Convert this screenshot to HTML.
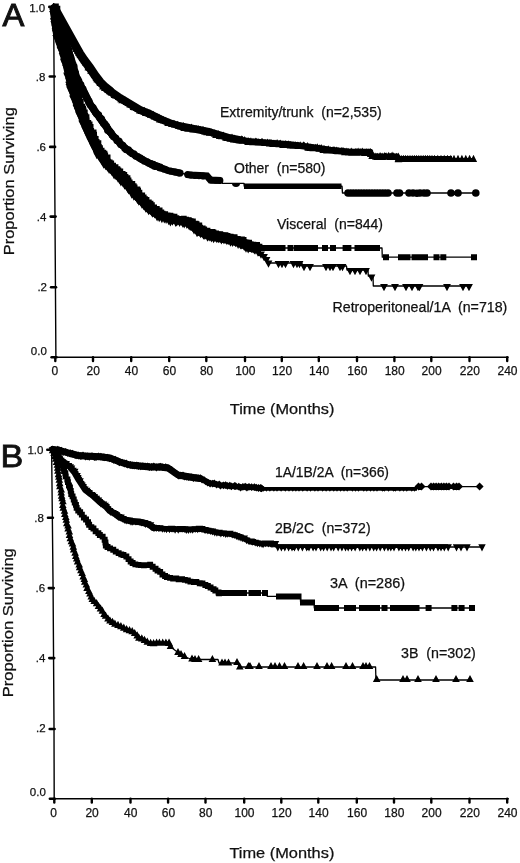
<!DOCTYPE html>
<html lang="en"><head><meta charset="utf-8"><title>Survival curves</title>
<style>
html,body{margin:0;padding:0;background:#fff}
svg{display:block}
text{font-family:"Liberation Sans",Arial,Helvetica,sans-serif;fill:#111;stroke:#111;stroke-width:0.25px}
</style></head><body>
<svg width="520" height="863" viewBox="0 0 520 863">
<rect width="520" height="863" fill="#fff"/>
<path d="M53.6 3L55.9 357.2H508.6" fill="none" stroke="#000" stroke-width="1.4"/>
<path d="M49.3 6.9H54.2" stroke="#000" stroke-width="2.6" stroke-linecap="round"/>
<path d="M49.8 76.5H54.7" stroke="#000" stroke-width="2.6" stroke-linecap="round"/>
<path d="M50.2 146.9H55.1" stroke="#000" stroke-width="2.6" stroke-linecap="round"/>
<path d="M50.7 216.6H55.6" stroke="#000" stroke-width="2.6" stroke-linecap="round"/>
<path d="M51.1 287.2H56" stroke="#000" stroke-width="2.6" stroke-linecap="round"/>
<path d="M51.6 357.2H56.5" stroke="#000" stroke-width="2.6" stroke-linecap="round"/>
<path d="M55.3 357.2V361" stroke="#000" stroke-width="2.4" stroke-linecap="round"/>
<path d="M93 357.2V361" stroke="#000" stroke-width="2.4" stroke-linecap="round"/>
<path d="M131.2 357.2V361" stroke="#000" stroke-width="2.4" stroke-linecap="round"/>
<path d="M169.2 357.2V361" stroke="#000" stroke-width="2.4" stroke-linecap="round"/>
<path d="M206.3 357.2V361" stroke="#000" stroke-width="2.4" stroke-linecap="round"/>
<path d="M245 357.2V361" stroke="#000" stroke-width="2.4" stroke-linecap="round"/>
<path d="M281.8 357.2V361" stroke="#000" stroke-width="2.4" stroke-linecap="round"/>
<path d="M318.8 357.2V361" stroke="#000" stroke-width="2.4" stroke-linecap="round"/>
<path d="M357 357.2V361" stroke="#000" stroke-width="2.4" stroke-linecap="round"/>
<path d="M394.4 357.2V361" stroke="#000" stroke-width="2.4" stroke-linecap="round"/>
<path d="M431.3 357.2V361" stroke="#000" stroke-width="2.4" stroke-linecap="round"/>
<path d="M469.5 357.2V361" stroke="#000" stroke-width="2.4" stroke-linecap="round"/>
<path d="M507.2 357.2V361" stroke="#000" stroke-width="2.4" stroke-linecap="round"/>
<path d="M54.5 8.2L58 14.5L62 21.7L67 30.7L72 39.7L77 48.7L80 54L84 60L90 68L95 75.5L100 82L105 87L110 91" fill="none" stroke="#000" stroke-width="8.8" stroke-linejoin="round" stroke-linecap="round"/>
<path d="M110 91L120 98L130 104L140 110L150 114L160 119" fill="none" stroke="#000" stroke-width="8" stroke-linejoin="round" stroke-linecap="round"/>
<path d="M160 119L170 123L180 126L190 128L200 130L210 132L220 135L230 138L240 140" fill="none" stroke="#000" stroke-width="7.4" stroke-linejoin="round" stroke-linecap="round"/>
<path d="M240 140L250 141.5L270 143L290 144.5L310 147L330 150L350 152L370 152" fill="none" stroke="#000" stroke-width="6.6" stroke-linejoin="round" stroke-linecap="round"/>
<path d="M370 152L372 156L397 156" fill="none" stroke="#000" stroke-width="5.2" stroke-linejoin="round" stroke-linecap="round"/>
<path d="M397 157L399 159.8L474 159.8" fill="none" stroke="#000" stroke-width="3.8" stroke-linejoin="round" stroke-linecap="butt"/>
<path d="M399 158.9L452 158.9" fill="none" stroke="#000" stroke-width="5.8" stroke-linejoin="round" stroke-linecap="butt"/>
<path d="M50.3 11.6L57.9 11.6L54.1 4.2ZM51.5 13.4L59.1 13.4L55.3 6ZM52.8 14.3L60.4 14.3L56.6 6.9ZM52.8 17.3L60.4 17.3L56.6 9.9ZM54.2 18.1L61.8 18.1L58 10.7ZM56.3 20.2L63.9 20.2L60.1 12.8ZM57.1 22L64.7 22L60.9 14.6ZM57.7 23.2L65.3 23.2L61.5 15.8ZM58.7 26.1L66.3 26.1L62.5 18.7ZM59.5 27.7L67.1 27.7L63.3 20.3ZM60.7 28.3L68.3 28.3L64.5 20.9ZM61.8 30.9L69.4 30.9L65.6 23.5ZM62 31.8L69.6 31.8L65.8 24.4ZM63.9 34.2L71.5 34.2L67.7 26.8ZM64.6 36.6L72.2 36.6L68.4 29.2ZM65.6 38.4L73.2 38.4L69.4 31ZM66.1 40L73.7 40L69.9 32.6ZM67.1 41.9L74.7 41.9L70.9 34.5ZM68.8 42.4L76.4 42.4L72.6 35ZM68.6 44.3L76.2 44.3L72.4 36.9ZM70.9 46.4L78.5 46.4L74.7 39ZM71.3 47.9L78.9 47.9L75.1 40.5ZM72.1 49.8L79.7 49.8L75.9 42.4ZM72.8 51.9L80.4 51.9L76.6 44.5ZM74.2 54.1L81.8 54.1L78 46.7ZM75.3 55.9L82.9 55.9L79.1 48.5ZM76.6 57.7L84.2 57.7L80.4 50.3ZM77.4 58.1L85 58.1L81.2 50.7ZM78.8 61.1L86.4 61.1L82.6 53.7ZM79.9 62.1L87.5 62.1L83.7 54.7ZM80.8 63.2L88.4 63.2L84.6 55.8ZM82.2 65.3L89.8 65.3L86 57.9ZM82.5 66.1L90.1 66.1L86.3 58.7ZM84.6 69.2L92.2 69.2L88.4 61.8ZM84.6 70.5L92.2 70.5L88.4 63.1ZM86.3 71.1L93.9 71.1L90.1 63.7ZM87.2 73.7L94.8 73.7L91 66.3ZM89.2 74.2L96.8 74.2L93 66.8ZM89.9 75.9L97.5 75.9L93.7 68.5ZM91.2 78L98.8 78L95 70.6ZM92.6 80.7L100.2 80.7L96.4 73.3ZM93.3 82.3L100.9 82.3L97.1 74.9ZM94.2 82.4L101.8 82.4L98 75ZM95.8 83.9L103.4 83.9L99.6 76.5ZM96.5 86L104.1 86L100.3 78.6ZM98.6 87L106.2 87L102.4 79.6ZM99.1 89.6L106.7 89.6L102.9 82.2ZM101 91.1L108.6 91.1L104.8 83.7ZM103.5 91.4L111.1 91.4L107.3 84ZM104.3 92.9L111.9 92.9L108.1 85.5ZM106.2 94.3L113.8 94.3L110 86.9ZM107.7 95.5L115.3 95.5L111.5 88.1ZM109.9 96.5L117.5 96.5L113.7 89.1ZM110.7 97.9L118.3 97.9L114.5 90.5ZM112.1 98.4L119.7 98.4L115.9 91ZM114.9 99.9L122.5 99.9L118.7 92.5ZM115.8 100.2L123.4 100.2L119.6 92.8ZM117.3 102.2L124.9 102.2L121.1 94.8ZM118.4 103.3L126 103.3L122.2 95.9ZM121.1 103.4L128.7 103.4L124.9 96ZM122.8 105.1L130.4 105.1L126.6 97.7ZM124.6 106L132.2 106L128.4 98.6ZM126.4 107.6L134 107.6L130.2 100.2ZM127 107.6L134.6 107.6L130.8 100.2ZM129.7 110L137.3 110L133.5 102.6ZM130.8 110.2L138.4 110.2L134.6 102.8ZM133 111.1L140.6 111.1L136.8 103.7ZM134.4 112.1L142 112.1L138.2 104.7ZM136.1 113.5L143.7 113.5L139.9 106.1ZM137.9 113.9L145.5 113.9L141.7 106.5ZM140.5 114.1L148.1 114.1L144.3 106.7ZM142 116L149.6 116L145.8 108.6ZM143.5 115.9L151.1 115.9L147.3 108.5ZM146.1 116.7L153.7 116.7L149.9 109.3ZM146.9 117.8L154.5 117.8L150.7 110.4ZM149.5 118.2L157.1 118.2L153.3 110.8ZM150.7 119.5L158.3 119.5L154.5 112.1ZM153.3 120.5L160.9 120.5L157.1 113.1ZM155.2 121L162.8 121L159 113.6ZM156.1 122.6L163.7 122.6L159.9 115.2ZM158.9 123.1L166.5 123.1L162.7 115.7ZM159.7 123.3L167.3 123.3L163.5 115.9ZM162 124.1L169.6 124.1L165.8 116.7ZM164.3 125.9L171.9 125.9L168.1 118.5ZM165.2 125.8L172.8 125.8L169 118.4ZM168.1 127L175.7 127L171.9 119.6ZM170 127.1L177.6 127.1L173.8 119.7ZM170.8 127.6L178.4 127.6L174.6 120.2ZM173.8 128.1L181.4 128.1L177.6 120.7ZM175 128.9L182.6 128.9L178.8 121.5ZM177 129.4L184.6 129.4L180.8 122ZM179.8 129.4L187.4 129.4L183.6 122ZM180.3 131L187.9 131L184.1 123.6ZM183.7 131.5L191.3 131.5L187.5 124.1ZM184.9 131.8L192.5 131.8L188.7 124.4ZM187.7 131L195.3 131L191.5 123.6ZM189.3 132.4L196.9 132.4L193.1 125ZM191.2 132.3L198.8 132.3L195 124.9ZM192.5 132.4L200.1 132.4L196.3 125ZM194.4 132.4L202 132.4L198.2 125ZM196.9 133.1L204.5 133.1L200.7 125.7ZM199.2 133.1L206.8 133.1L203 125.7ZM201.3 134.5L208.9 134.5L205.1 127.1ZM203.3 135.3L210.9 135.3L207.1 127.9ZM205.3 135.1L212.9 135.1L209.1 127.7ZM205.8 135.8L213.4 135.8L209.6 128.4ZM208 135.7L215.6 135.7L211.8 128.3ZM210.7 136.6L218.3 136.6L214.5 129.2ZM212.2 137.9L219.8 137.9L216 130.5ZM214.4 137.5L222 137.5L218.2 130.1ZM215.8 138.9L223.4 138.9L219.6 131.5ZM218 139.3L225.6 139.3L221.8 131.9ZM219.7 139L227.3 139L223.5 131.6ZM222 140.5L229.6 140.5L225.8 133.1ZM223.3 141.1L230.9 141.1L227.1 133.7ZM226.4 141.7L234 141.7L230.2 134.3ZM228.2 140.8L235.8 140.8L232 133.4ZM229.9 142.6L237.5 142.6L233.7 135.2ZM230.9 142L238.5 142L234.7 134.6ZM233.2 142.8L240.8 142.8L237 135.4ZM235.4 143.2L243 143.2L239.2 135.8ZM237.9 142.7L245.5 142.7L241.7 135.3ZM238.8 143.2L246.4 143.2L242.6 135.8ZM240.9 143.4L248.5 143.4L244.7 136ZM244.2 145L251.8 145L248 137.6ZM244.8 144.7L252.4 144.7L248.6 137.3ZM247.1 144.6L254.7 144.6L250.9 137.2ZM249.2 145.3L256.8 145.3L253 137.9ZM251.5 145L259.1 145L255.3 137.6ZM252.9 145.1L260.5 145.1L256.7 137.7ZM254.8 145.6L262.4 145.6L258.6 138.2ZM257.7 145.5L265.3 145.5L261.5 138.1ZM258.7 145.3L266.3 145.3L262.5 137.9ZM261.2 146.1L268.8 146.1L265 138.7ZM263.8 145.9L271.4 145.9L267.6 138.5ZM265.8 146.5L273.4 146.5L269.6 139.1ZM267.2 146.2L274.8 146.2L271 138.8ZM269.3 146.9L276.9 146.9L273.1 139.5ZM271.2 147L278.8 147L275 139.6ZM273.3 146.5L280.9 146.5L277.1 139.1ZM275.4 147.3L283 147.3L279.2 139.9ZM276.6 147L284.2 147L280.4 139.6ZM279.2 147.9L286.8 147.9L283 140.5ZM282 147.3L289.6 147.3L285.8 139.9ZM283.9 148.1L291.5 148.1L287.7 140.7ZM284.9 147.7L292.5 147.7L288.7 140.3ZM286.7 148.5L294.3 148.5L290.5 141.1ZM289.5 148.8L297.1 148.8L293.3 141.4ZM291.7 148.7L299.3 148.7L295.5 141.3ZM293.6 148.8L301.2 148.8L297.4 141.4ZM294.6 149.1L302.2 149.1L298.4 141.7ZM296.4 148.6L304 148.6L300.2 141.2ZM299.6 148.7L307.2 148.7L303.4 141.3ZM300.5 149.1L308.1 149.1L304.3 141.7ZM303.8 149.4L311.4 149.4L307.6 142ZM304.4 150.7L312 150.7L308.2 143.3ZM306.5 151L314.1 151L310.3 143.6ZM309.4 151.3L317 151.3L313.2 143.9ZM311.8 151.2L319.4 151.2L315.6 143.8ZM313.5 150.6L321.1 150.6L317.3 143.2ZM315.5 151.7L323.1 151.7L319.3 144.3ZM317.4 151.3L325 151.3L321.2 143.9ZM319.4 152.9L327 152.9L323.2 145.5ZM320.3 152.3L327.9 152.3L324.1 144.9ZM323.1 153.4L330.7 153.4L326.9 146ZM324.5 152.6L332.1 152.6L328.3 145.2ZM326.5 153.6L334.1 153.6L330.3 146.2ZM329.3 153.4L336.9 153.4L333.1 146ZM330.7 153.6L338.3 153.6L334.5 146.2ZM332.6 153.9L340.2 153.9L336.4 146.5ZM334.2 154.2L341.8 154.2L338 146.8ZM337.6 154.3L345.2 154.3L341.4 146.9ZM339.2 154.1L346.8 154.1L343 146.7ZM341.1 155.2L348.7 155.2L344.9 147.8ZM343.1 155L350.7 155L346.9 147.6ZM344.8 155.4L352.4 155.4L348.6 148ZM347.4 154.8L355 154.8L351.2 147.4ZM348.2 155.7L355.8 155.7L352 148.3ZM351.5 155.4L359.1 155.4L355.3 148ZM352.7 155.7L360.3 155.7L356.5 148.3ZM354.3 155L361.9 155L358.1 147.6ZM356.3 155.5L363.9 155.5L360.1 148.1ZM358.5 154.9L366.1 154.9L362.3 147.5ZM361.1 156.1L368.7 156.1L364.9 148.7ZM362.5 155.7L370.1 155.7L366.3 148.3ZM364.7 155.9L372.3 155.9L368.5 148.5ZM366.6 155.5L374.2 155.5L370.4 148.1ZM366.9 156.9L374.5 156.9L370.7 149.5ZM368.3 159.1L375.9 159.1L372.1 151.7ZM369.8 159.1L377.4 159.1L373.6 151.7ZM372.1 159.8L379.7 159.8L375.9 152.4ZM373.8 160.1L381.4 160.1L377.6 152.7ZM376.3 159.5L383.9 159.5L380.1 152.1ZM378.3 159.9L385.9 159.9L382.1 152.5ZM380.9 159.4L388.5 159.4L384.7 152ZM382.3 159.7L389.9 159.7L386.1 152.3ZM384.9 159.2L392.5 159.2L388.7 151.8ZM386.7 160.1L394.3 160.1L390.5 152.7ZM388.3 158.9L395.9 158.9L392.1 151.5ZM389.9 159.7L397.5 159.7L393.7 152.3ZM392.6 160.1L400.2 160.1L396.4 152.7ZM394.5 159.8L402.1 159.8L398.3 152.4ZM394.6 161.4L402.2 161.4L398.4 154ZM394.7 162.3L402.3 162.3L398.5 154.9Z" fill="#000"/>
<path d="M395.4 162L402.6 162L399 154.8ZM397.6 162L404.8 162L401.2 154.8ZM399.8 162L407 162L403.4 154.8ZM402 162L409.2 162L405.6 154.8ZM404.2 162L411.4 162L407.8 154.8ZM406.4 162L413.6 162L410 154.8ZM408.6 162L415.8 162L412.2 154.8ZM410.8 162L418 162L414.4 154.8ZM413 162L420.2 162L416.6 154.8ZM415.2 162L422.4 162L418.8 154.8ZM417.4 162L424.6 162L421 154.8ZM419.6 162L426.8 162L423.2 154.8ZM421.8 162L429 162L425.4 154.8ZM424 162L431.2 162L427.6 154.8ZM426.2 162L433.4 162L429.8 154.8ZM428.4 162L435.6 162L432 154.8ZM430.9 162L438.1 162L434.5 154.8ZM434.1 162L441.4 162L437.8 154.8ZM437.4 162L444.6 162L441 154.8ZM440.6 162L447.9 162L444.2 154.8ZM443.9 162L451.1 162L447.5 154.8ZM447.1 162L454.4 162L450.8 154.8ZM450.4 162L457.6 162L454 154.8ZM454.4 162L461.6 162L458 154.8ZM458.3 162L465.5 162L461.9 154.8ZM462.1 162L469.4 162L465.8 154.8ZM466 162L473.2 162L469.6 154.8ZM469.9 162L477.1 162L473.5 154.8Z" fill="#000"/>
<path d="M54.5 8.2L58 18.5L62 30L66 43L70 56L73 66L76 76L80 85L84 92L90 104L95 111.5L100 118L110 132L120 143.5L130 152L140 158.5L150 163.5L160 167.5L170 171L180 173L190 175L200 175.6L208 176L211 180L222 180.5L222.3 183.4L244 183.4L244.3 186.2L342 186.2L342.5 193L476 193" fill="none" stroke="#000" stroke-width="1.4" stroke-linejoin="round" stroke-linecap="butt"/>
<path d="M54.5 8.2L58 18.5L62 30L66 43L70 56L73 66L76 76L80 85L84 92L90 104L95 111.5L100 118L110 132" fill="none" stroke="#000" stroke-width="7.6" stroke-linejoin="round" stroke-linecap="round"/>
<path d="M110 132L120 143.5L130 152L140 158.5L150 163.5L160 167.5" fill="none" stroke="#000" stroke-width="7" stroke-linejoin="round" stroke-linecap="round"/>
<path d="M150 163.5L160 167.5L166 169.6" fill="none" stroke="#000" stroke-width="7" stroke-linejoin="round" stroke-linecap="round"/>
<path d="M168 170.6L180 173" fill="none" stroke="#000" stroke-width="7" stroke-linejoin="round" stroke-linecap="round"/>
<path d="M186 174.4L190 175L200 175.6L207 176L210.5 180L221 180.5" fill="none" stroke="#000" stroke-width="7" stroke-linejoin="miter" stroke-linecap="butt"/>
<path d="M244 186.3L341.5 186.3" fill="none" stroke="#000" stroke-width="5.4" stroke-linejoin="round" stroke-linecap="butt"/>
<path d="M232 183.6a4 3.4 0 0 0 8 0z" fill="#000"/>
<path d="M51.3 8.8a3.7 3.7 0 1 0 7.4 0a3.7 3.7 0 1 0 -7.4 0ZM51.2 10.8a3.7 3.7 0 1 0 7.4 0a3.7 3.7 0 1 0 -7.4 0ZM52 12.3a3.7 3.7 0 1 0 7.4 0a3.7 3.7 0 1 0 -7.4 0ZM53.2 13.9a3.7 3.7 0 1 0 7.4 0a3.7 3.7 0 1 0 -7.4 0ZM53.1 17a3.7 3.7 0 1 0 7.4 0a3.7 3.7 0 1 0 -7.4 0ZM54 18.4a3.7 3.7 0 1 0 7.4 0a3.7 3.7 0 1 0 -7.4 0ZM55.2 20.9a3.7 3.7 0 1 0 7.4 0a3.7 3.7 0 1 0 -7.4 0ZM55.1 22.5a3.7 3.7 0 1 0 7.4 0a3.7 3.7 0 1 0 -7.4 0ZM56.4 24.8a3.7 3.7 0 1 0 7.4 0a3.7 3.7 0 1 0 -7.4 0ZM56.8 27a3.7 3.7 0 1 0 7.4 0a3.7 3.7 0 1 0 -7.4 0ZM58.6 28.9a3.7 3.7 0 1 0 7.4 0a3.7 3.7 0 1 0 -7.4 0ZM58.7 30.6a3.7 3.7 0 1 0 7.4 0a3.7 3.7 0 1 0 -7.4 0ZM59 33.4a3.7 3.7 0 1 0 7.4 0a3.7 3.7 0 1 0 -7.4 0ZM59.4 35.8a3.7 3.7 0 1 0 7.4 0a3.7 3.7 0 1 0 -7.4 0ZM61.2 36.8a3.7 3.7 0 1 0 7.4 0a3.7 3.7 0 1 0 -7.4 0ZM61.8 39.3a3.7 3.7 0 1 0 7.4 0a3.7 3.7 0 1 0 -7.4 0ZM62.3 42a3.7 3.7 0 1 0 7.4 0a3.7 3.7 0 1 0 -7.4 0ZM62.2 44a3.7 3.7 0 1 0 7.4 0a3.7 3.7 0 1 0 -7.4 0ZM63.4 46.2a3.7 3.7 0 1 0 7.4 0a3.7 3.7 0 1 0 -7.4 0ZM63.5 48.3a3.7 3.7 0 1 0 7.4 0a3.7 3.7 0 1 0 -7.4 0ZM65.1 50.3a3.7 3.7 0 1 0 7.4 0a3.7 3.7 0 1 0 -7.4 0ZM65.2 51.6a3.7 3.7 0 1 0 7.4 0a3.7 3.7 0 1 0 -7.4 0ZM65.7 54a3.7 3.7 0 1 0 7.4 0a3.7 3.7 0 1 0 -7.4 0ZM66.7 56.6a3.7 3.7 0 1 0 7.4 0a3.7 3.7 0 1 0 -7.4 0ZM67.1 58a3.7 3.7 0 1 0 7.4 0a3.7 3.7 0 1 0 -7.4 0ZM67.9 60.7a3.7 3.7 0 1 0 7.4 0a3.7 3.7 0 1 0 -7.4 0ZM67.8 63.2a3.7 3.7 0 1 0 7.4 0a3.7 3.7 0 1 0 -7.4 0ZM69.1 64.2a3.7 3.7 0 1 0 7.4 0a3.7 3.7 0 1 0 -7.4 0ZM70.2 66.4a3.7 3.7 0 1 0 7.4 0a3.7 3.7 0 1 0 -7.4 0ZM70 69.3a3.7 3.7 0 1 0 7.4 0a3.7 3.7 0 1 0 -7.4 0ZM71 71.2a3.7 3.7 0 1 0 7.4 0a3.7 3.7 0 1 0 -7.4 0ZM71.7 73.1a3.7 3.7 0 1 0 7.4 0a3.7 3.7 0 1 0 -7.4 0ZM71.8 74.8a3.7 3.7 0 1 0 7.4 0a3.7 3.7 0 1 0 -7.4 0ZM72.3 77.6a3.7 3.7 0 1 0 7.4 0a3.7 3.7 0 1 0 -7.4 0ZM74.1 79.4a3.7 3.7 0 1 0 7.4 0a3.7 3.7 0 1 0 -7.4 0ZM75 81.2a3.7 3.7 0 1 0 7.4 0a3.7 3.7 0 1 0 -7.4 0ZM75.2 83.2a3.7 3.7 0 1 0 7.4 0a3.7 3.7 0 1 0 -7.4 0ZM77 84.7a3.7 3.7 0 1 0 7.4 0a3.7 3.7 0 1 0 -7.4 0ZM77.6 86.9a3.7 3.7 0 1 0 7.4 0a3.7 3.7 0 1 0 -7.4 0ZM79.1 89a3.7 3.7 0 1 0 7.4 0a3.7 3.7 0 1 0 -7.4 0ZM79.5 91a3.7 3.7 0 1 0 7.4 0a3.7 3.7 0 1 0 -7.4 0ZM80.9 93.4a3.7 3.7 0 1 0 7.4 0a3.7 3.7 0 1 0 -7.4 0ZM81.6 95.5a3.7 3.7 0 1 0 7.4 0a3.7 3.7 0 1 0 -7.4 0ZM82.2 96.6a3.7 3.7 0 1 0 7.4 0a3.7 3.7 0 1 0 -7.4 0ZM83.2 98.4a3.7 3.7 0 1 0 7.4 0a3.7 3.7 0 1 0 -7.4 0ZM85.1 101.2a3.7 3.7 0 1 0 7.4 0a3.7 3.7 0 1 0 -7.4 0ZM85.3 102.4a3.7 3.7 0 1 0 7.4 0a3.7 3.7 0 1 0 -7.4 0ZM86.7 105.1a3.7 3.7 0 1 0 7.4 0a3.7 3.7 0 1 0 -7.4 0ZM88.5 107a3.7 3.7 0 1 0 7.4 0a3.7 3.7 0 1 0 -7.4 0ZM89.4 107.9a3.7 3.7 0 1 0 7.4 0a3.7 3.7 0 1 0 -7.4 0ZM90.3 109.8a3.7 3.7 0 1 0 7.4 0a3.7 3.7 0 1 0 -7.4 0ZM91.8 112.2a3.7 3.7 0 1 0 7.4 0a3.7 3.7 0 1 0 -7.4 0ZM92.7 113.5a3.7 3.7 0 1 0 7.4 0a3.7 3.7 0 1 0 -7.4 0ZM94.8 114.9a3.7 3.7 0 1 0 7.4 0a3.7 3.7 0 1 0 -7.4 0ZM96.2 117.9a3.7 3.7 0 1 0 7.4 0a3.7 3.7 0 1 0 -7.4 0ZM97.7 118.9a3.7 3.7 0 1 0 7.4 0a3.7 3.7 0 1 0 -7.4 0ZM98.4 121a3.7 3.7 0 1 0 7.4 0a3.7 3.7 0 1 0 -7.4 0ZM99.8 123.3a3.7 3.7 0 1 0 7.4 0a3.7 3.7 0 1 0 -7.4 0ZM101.2 124.2a3.7 3.7 0 1 0 7.4 0a3.7 3.7 0 1 0 -7.4 0ZM102.7 126.2a3.7 3.7 0 1 0 7.4 0a3.7 3.7 0 1 0 -7.4 0ZM103.6 128.3a3.7 3.7 0 1 0 7.4 0a3.7 3.7 0 1 0 -7.4 0ZM104 130.2a3.7 3.7 0 1 0 7.4 0a3.7 3.7 0 1 0 -7.4 0ZM106.2 131.6a3.7 3.7 0 1 0 7.4 0a3.7 3.7 0 1 0 -7.4 0ZM107.5 133.2a3.7 3.7 0 1 0 7.4 0a3.7 3.7 0 1 0 -7.4 0ZM108.4 135a3.7 3.7 0 1 0 7.4 0a3.7 3.7 0 1 0 -7.4 0ZM109.7 136.6a3.7 3.7 0 1 0 7.4 0a3.7 3.7 0 1 0 -7.4 0ZM112 138.2a3.7 3.7 0 1 0 7.4 0a3.7 3.7 0 1 0 -7.4 0ZM113.3 140.6a3.7 3.7 0 1 0 7.4 0a3.7 3.7 0 1 0 -7.4 0ZM115.2 141.1a3.7 3.7 0 1 0 7.4 0a3.7 3.7 0 1 0 -7.4 0ZM116.5 143.4a3.7 3.7 0 1 0 7.4 0a3.7 3.7 0 1 0 -7.4 0ZM117.1 144.5a3.7 3.7 0 1 0 7.4 0a3.7 3.7 0 1 0 -7.4 0ZM119 145.5a3.7 3.7 0 1 0 7.4 0a3.7 3.7 0 1 0 -7.4 0ZM121.1 148.2a3.7 3.7 0 1 0 7.4 0a3.7 3.7 0 1 0 -7.4 0ZM122.5 149.5a3.7 3.7 0 1 0 7.4 0a3.7 3.7 0 1 0 -7.4 0ZM124.7 149.9a3.7 3.7 0 1 0 7.4 0a3.7 3.7 0 1 0 -7.4 0ZM126.6 152a3.7 3.7 0 1 0 7.4 0a3.7 3.7 0 1 0 -7.4 0ZM128.5 153.4a3.7 3.7 0 1 0 7.4 0a3.7 3.7 0 1 0 -7.4 0ZM130.1 154a3.7 3.7 0 1 0 7.4 0a3.7 3.7 0 1 0 -7.4 0ZM132.1 156.1a3.7 3.7 0 1 0 7.4 0a3.7 3.7 0 1 0 -7.4 0ZM134 156.6a3.7 3.7 0 1 0 7.4 0a3.7 3.7 0 1 0 -7.4 0ZM135.7 157.8a3.7 3.7 0 1 0 7.4 0a3.7 3.7 0 1 0 -7.4 0ZM136.7 158.3a3.7 3.7 0 1 0 7.4 0a3.7 3.7 0 1 0 -7.4 0ZM138.6 159.5a3.7 3.7 0 1 0 7.4 0a3.7 3.7 0 1 0 -7.4 0ZM140.7 160.9a3.7 3.7 0 1 0 7.4 0a3.7 3.7 0 1 0 -7.4 0ZM143.4 162a3.7 3.7 0 1 0 7.4 0a3.7 3.7 0 1 0 -7.4 0ZM145 163.1a3.7 3.7 0 1 0 7.4 0a3.7 3.7 0 1 0 -7.4 0ZM146.8 163.8a3.7 3.7 0 1 0 7.4 0a3.7 3.7 0 1 0 -7.4 0ZM149.5 164.5a3.7 3.7 0 1 0 7.4 0a3.7 3.7 0 1 0 -7.4 0ZM150.7 166a3.7 3.7 0 1 0 7.4 0a3.7 3.7 0 1 0 -7.4 0ZM153.5 166.1a3.7 3.7 0 1 0 7.4 0a3.7 3.7 0 1 0 -7.4 0ZM155.1 167.1a3.7 3.7 0 1 0 7.4 0a3.7 3.7 0 1 0 -7.4 0ZM156.4 167.1a3.7 3.7 0 1 0 7.4 0a3.7 3.7 0 1 0 -7.4 0Z" fill="#000"/>
<path d="M148.6 165a3.4 3.4 0 1 0 6.8 0a3.4 3.4 0 1 0 -6.8 0ZM152.6 166.7a3.4 3.4 0 1 0 6.8 0a3.4 3.4 0 1 0 -6.8 0ZM156.6 168a3.4 3.4 0 1 0 6.8 0a3.4 3.4 0 1 0 -6.8 0ZM160.6 169.2a3.4 3.4 0 1 0 6.8 0a3.4 3.4 0 1 0 -6.8 0ZM167.6 171.2a3.4 3.4 0 1 0 6.8 0a3.4 3.4 0 1 0 -6.8 0ZM171.6 172a3.4 3.4 0 1 0 6.8 0a3.4 3.4 0 1 0 -6.8 0ZM175.6 173a3.4 3.4 0 1 0 6.8 0a3.4 3.4 0 1 0 -6.8 0ZM184.1 174.6a3.4 3.4 0 1 0 6.8 0a3.4 3.4 0 1 0 -6.8 0ZM187.6 175a3.4 3.4 0 1 0 6.8 0a3.4 3.4 0 1 0 -6.8 0ZM191.6 175.5a3.4 3.4 0 1 0 6.8 0a3.4 3.4 0 1 0 -6.8 0ZM195.6 175.8a3.4 3.4 0 1 0 6.8 0a3.4 3.4 0 1 0 -6.8 0ZM199.6 176a3.4 3.4 0 1 0 6.8 0a3.4 3.4 0 1 0 -6.8 0ZM208.6 180.2a3.4 3.4 0 1 0 6.8 0a3.4 3.4 0 1 0 -6.8 0ZM212.6 180.4a3.4 3.4 0 1 0 6.8 0a3.4 3.4 0 1 0 -6.8 0ZM216.6 180.5a3.4 3.4 0 1 0 6.8 0a3.4 3.4 0 1 0 -6.8 0Z" fill="#000"/>
<path d="M344.2 193a3.8 3.8 0 1 0 7.6 0a3.8 3.8 0 1 0 -7.6 0ZM346.9 193a3.8 3.8 0 1 0 7.6 0a3.8 3.8 0 1 0 -7.6 0ZM349.5 193a3.8 3.8 0 1 0 7.6 0a3.8 3.8 0 1 0 -7.6 0ZM352.2 193a3.8 3.8 0 1 0 7.6 0a3.8 3.8 0 1 0 -7.6 0ZM354.9 193a3.8 3.8 0 1 0 7.6 0a3.8 3.8 0 1 0 -7.6 0ZM357.5 193a3.8 3.8 0 1 0 7.6 0a3.8 3.8 0 1 0 -7.6 0ZM360.2 193a3.8 3.8 0 1 0 7.6 0a3.8 3.8 0 1 0 -7.6 0ZM362.9 193a3.8 3.8 0 1 0 7.6 0a3.8 3.8 0 1 0 -7.6 0ZM365.5 193a3.8 3.8 0 1 0 7.6 0a3.8 3.8 0 1 0 -7.6 0ZM368.2 193a3.8 3.8 0 1 0 7.6 0a3.8 3.8 0 1 0 -7.6 0ZM370.9 193a3.8 3.8 0 1 0 7.6 0a3.8 3.8 0 1 0 -7.6 0ZM373.5 193a3.8 3.8 0 1 0 7.6 0a3.8 3.8 0 1 0 -7.6 0ZM376.2 193a3.8 3.8 0 1 0 7.6 0a3.8 3.8 0 1 0 -7.6 0ZM378.9 193a3.8 3.8 0 1 0 7.6 0a3.8 3.8 0 1 0 -7.6 0ZM381.5 193a3.8 3.8 0 1 0 7.6 0a3.8 3.8 0 1 0 -7.6 0ZM384.2 193a3.8 3.8 0 1 0 7.6 0a3.8 3.8 0 1 0 -7.6 0ZM393.2 193a3.8 3.8 0 1 0 7.6 0a3.8 3.8 0 1 0 -7.6 0ZM395.7 193a3.8 3.8 0 1 0 7.6 0a3.8 3.8 0 1 0 -7.6 0ZM405.2 193a3.8 3.8 0 1 0 7.6 0a3.8 3.8 0 1 0 -7.6 0ZM409.2 193a3.8 3.8 0 1 0 7.6 0a3.8 3.8 0 1 0 -7.6 0ZM416.2 193a3.8 3.8 0 1 0 7.6 0a3.8 3.8 0 1 0 -7.6 0ZM420.2 193a3.8 3.8 0 1 0 7.6 0a3.8 3.8 0 1 0 -7.6 0ZM423.2 193a3.8 3.8 0 1 0 7.6 0a3.8 3.8 0 1 0 -7.6 0ZM413.2 193.2a3.8 3.8 0 1 0 7.6 0a3.8 3.8 0 1 0 -7.6 0ZM447.2 193a3.8 3.8 0 1 0 7.6 0a3.8 3.8 0 1 0 -7.6 0ZM454.2 193a3.8 3.8 0 1 0 7.6 0a3.8 3.8 0 1 0 -7.6 0ZM472 193a3.8 3.8 0 1 0 7.6 0a3.8 3.8 0 1 0 -7.6 0Z" fill="#000"/>
<path d="M54.5 9L56 22L57.5 32L60.3 42L63.8 51L66 59L67.8 66L72 86L78 104L84 120L90 134L98 150" fill="none" stroke="#000" stroke-width="9.6" stroke-linejoin="round" stroke-linecap="round"/>
<path d="M98 150L106 162L116 172L126 182L136 193.6L146 204.2L150 208.3L160 215" fill="none" stroke="#000" stroke-width="10.4" stroke-linejoin="round" stroke-linecap="round"/>
<path d="M160 215L170 219L180 221L190 223" fill="none" stroke="#000" stroke-width="8" stroke-linejoin="round" stroke-linecap="round"/>
<path d="M190 223L200 231L210 235L220 237L230 239L240 242L250 246.5L257 248" fill="none" stroke="#000" stroke-width="10.5" stroke-linejoin="round" stroke-linecap="round"/>
<path d="M53 3.4h5.8v5.8h-5.8ZM54.5 5.7h5.8v5.8h-5.8ZM54.3 8.2h5.8v5.8h-5.8ZM54.2 10.5h5.8v5.8h-5.8ZM54.7 12.9h5.8v5.8h-5.8ZM54.4 15.2h5.8v5.8h-5.8ZM55 18.2h5.8v5.8h-5.8ZM55.1 19.8h5.8v5.8h-5.8ZM56.1 22.8h5.8v5.8h-5.8ZM56.9 24.6h5.8v5.8h-5.8ZM56.9 27.5h5.8v5.8h-5.8ZM56.9 30.7h5.8v5.8h-5.8ZM57.9 31.6h5.8v5.8h-5.8ZM58.9 34.1h5.8v5.8h-5.8ZM59.8 36.7h5.8v5.8h-5.8ZM59.9 38.4h5.8v5.8h-5.8ZM61.7 41h5.8v5.8h-5.8ZM62.7 43.6h5.8v5.8h-5.8ZM63.8 45.5h5.8v5.8h-5.8ZM63.3 47.8h5.8v5.8h-5.8ZM64.9 50.7h5.8v5.8h-5.8ZM64.8 52.2h5.8v5.8h-5.8ZM65.9 55.9h5.8v5.8h-5.8ZM66.4 56.7h5.8v5.8h-5.8ZM66.1 59.1h5.8v5.8h-5.8ZM66.8 61.4h5.8v5.8h-5.8ZM67.1 64.7h5.8v5.8h-5.8ZM69 66.3h5.8v5.8h-5.8ZM69.6 69.1h5.8v5.8h-5.8ZM69.8 72.2h5.8v5.8h-5.8ZM70.5 73.1h5.8v5.8h-5.8ZM70 76.4h5.8v5.8h-5.8ZM71.5 77.9h5.8v5.8h-5.8ZM71 81.5h5.8v5.8h-5.8ZM71.4 83h5.8v5.8h-5.8ZM72.6 85.7h5.8v5.8h-5.8ZM74.3 87.2h5.8v5.8h-5.8ZM74.7 90.4h5.8v5.8h-5.8ZM75.6 92.4h5.8v5.8h-5.8ZM76.5 94.3h5.8v5.8h-5.8ZM76.5 96.4h5.8v5.8h-5.8ZM77.8 99.1h5.8v5.8h-5.8ZM77.9 100.8h5.8v5.8h-5.8ZM79.4 103.8h5.8v5.8h-5.8ZM80.2 105.7h5.8v5.8h-5.8ZM80.7 107.5h5.8v5.8h-5.8ZM81.9 109.6h5.8v5.8h-5.8ZM82.4 113h5.8v5.8h-5.8ZM83.6 114.2h5.8v5.8h-5.8ZM83.8 117.6h5.8v5.8h-5.8ZM85.4 119.9h5.8v5.8h-5.8ZM86.7 121.4h5.8v5.8h-5.8ZM87.7 124h5.8v5.8h-5.8ZM87.7 125.7h5.8v5.8h-5.8ZM88.3 127.9h5.8v5.8h-5.8ZM90.7 129.6h5.8v5.8h-5.8ZM91.2 131.8h5.8v5.8h-5.8ZM91.4 134.8h5.8v5.8h-5.8ZM92.8 136h5.8v5.8h-5.8ZM93.7 139.1h5.8v5.8h-5.8ZM95.5 140.2h5.8v5.8h-5.8ZM96 143.9h5.8v5.8h-5.8ZM97.1 145.3h5.8v5.8h-5.8ZM98.7 147.7h5.8v5.8h-5.8ZM100.4 149.7h5.8v5.8h-5.8ZM101.6 150.7h5.8v5.8h-5.8ZM102.3 152.6h5.8v5.8h-5.8ZM104.7 154.6h5.8v5.8h-5.8ZM104.8 157.9h5.8v5.8h-5.8ZM106.8 159.5h5.8v5.8h-5.8ZM108.3 160.5h5.8v5.8h-5.8ZM110.2 162.8h5.8v5.8h-5.8ZM112.6 164.2h5.8v5.8h-5.8ZM114.5 166.3h5.8v5.8h-5.8ZM115.5 167.5h5.8v5.8h-5.8ZM117.4 168.4h5.8v5.8h-5.8ZM119.7 170.9h5.8v5.8h-5.8ZM121.4 172h5.8v5.8h-5.8ZM122.6 174.1h5.8v5.8h-5.8ZM124.6 175.2h5.8v5.8h-5.8ZM125.6 177.6h5.8v5.8h-5.8ZM126.8 179.5h5.8v5.8h-5.8ZM129.4 181.1h5.8v5.8h-5.8ZM130.8 183.2h5.8v5.8h-5.8ZM131.7 184.6h5.8v5.8h-5.8ZM134.5 186.4h5.8v5.8h-5.8ZM135.2 187.8h5.8v5.8h-5.8ZM136.5 189.7h5.8v5.8h-5.8ZM139.3 192.4h5.8v5.8h-5.8ZM140.8 194.5h5.8v5.8h-5.8ZM142.1 196.2h5.8v5.8h-5.8ZM143.6 197.1h5.8v5.8h-5.8ZM145.9 199.6h5.8v5.8h-5.8ZM147.6 200.7h5.8v5.8h-5.8ZM149 202.3h5.8v5.8h-5.8ZM151.2 204.6h5.8v5.8h-5.8ZM152 206h5.8v5.8h-5.8ZM153.9 205.9h5.8v5.8h-5.8ZM156.7 207.6h5.8v5.8h-5.8ZM158.4 209.5h5.8v5.8h-5.8ZM159.7 210.8h5.8v5.8h-5.8ZM162.3 211.2h5.8v5.8h-5.8ZM164.7 212.5h5.8v5.8h-5.8ZM167.5 212.7h5.8v5.8h-5.8ZM168.8 213.6h5.8v5.8h-5.8ZM171.6 213.7h5.8v5.8h-5.8ZM173.5 215.3h5.8v5.8h-5.8ZM176.8 216.1h5.8v5.8h-5.8ZM179.6 216.4h5.8v5.8h-5.8ZM180.9 215.7h5.8v5.8h-5.8ZM183.2 216.7h5.8v5.8h-5.8ZM185.9 217.3h5.8v5.8h-5.8ZM188 218.2h5.8v5.8h-5.8ZM190 218.6h5.8v5.8h-5.8ZM192.8 220.7h5.8v5.8h-5.8ZM193.7 221.3h5.8v5.8h-5.8ZM196.4 222.4h5.8v5.8h-5.8ZM197.2 224.8h5.8v5.8h-5.8ZM199.8 225.5h5.8v5.8h-5.8ZM201.3 226.5h5.8v5.8h-5.8ZM204.6 227.8h5.8v5.8h-5.8ZM207.2 229.2h5.8v5.8h-5.8ZM209.4 228.9h5.8v5.8h-5.8ZM210.5 229.5h5.8v5.8h-5.8ZM213.2 230.4h5.8v5.8h-5.8ZM215 231.3h5.8v5.8h-5.8ZM217.4 231.3h5.8v5.8h-5.8ZM220 232.6h5.8v5.8h-5.8ZM222.6 232.2h5.8v5.8h-5.8ZM224.4 232.9h5.8v5.8h-5.8ZM227.7 233.8h5.8v5.8h-5.8ZM230.5 234.5h5.8v5.8h-5.8ZM231.7 234.2h5.8v5.8h-5.8ZM234.8 235.9h5.8v5.8h-5.8ZM236.7 236.6h5.8v5.8h-5.8ZM239.1 236.5h5.8v5.8h-5.8ZM240.7 237h5.8v5.8h-5.8ZM243.6 239.4h5.8v5.8h-5.8ZM246.2 239.7h5.8v5.8h-5.8ZM248 241.4h5.8v5.8h-5.8ZM250.5 241.7h5.8v5.8h-5.8ZM252.2 242.1h5.8v5.8h-5.8ZM254.2 242h5.8v5.8h-5.8ZM256.6 243.7h5.8v5.8h-5.8Z" fill="#000"/>
<path d="M49.2 8.6L56 8.6L52.6 15.2ZM49.1 11.1L55.9 11.1L52.5 17.7ZM50.1 13.5L56.9 13.5L53.5 20.1ZM50.7 15.4L57.5 15.4L54.1 22ZM49.9 18.3L56.7 18.3L53.3 24.9ZM50.3 21.2L57.1 21.2L53.7 27.8ZM51.3 23.7L58.1 23.7L54.7 30.3ZM51.3 24.7L58.1 24.7L54.7 31.3ZM51.6 27.9L58.4 27.9L55 34.5ZM51.8 29.8L58.6 29.8L55.2 36.4ZM52.7 33.2L59.5 33.2L56.1 39.8ZM52.3 35.1L59.1 35.1L55.7 41.7ZM53.4 37.2L60.2 37.2L56.8 43.8ZM54.9 40.2L61.7 40.2L58.3 46.8ZM55.1 41.3L61.9 41.3L58.5 47.9ZM56.4 43.5L63.2 43.5L59.8 50.1ZM56.5 46.8L63.3 46.8L59.9 53.4ZM57.2 48.1L64 48.1L60.6 54.7ZM59.1 51.4L65.9 51.4L62.5 58ZM58.7 52.9L65.5 52.9L62.1 59.5ZM59.3 54.8L66.1 54.8L62.7 61.4ZM59.9 58.4L66.7 58.4L63.3 65ZM60.2 59.6L67 59.6L63.6 66.2ZM61 61.6L67.8 61.6L64.4 68.2ZM62.2 65L69 65L65.6 71.6ZM63.2 67.2L70 67.2L66.6 73.8ZM63.7 68.5L70.5 68.5L67.1 75.1ZM63.3 72.4L70.1 72.4L66.7 79ZM63.4 73.6L70.2 73.6L66.8 80.2ZM64.6 76L71.4 76L68 82.6ZM65.2 78L72 78L68.6 84.6ZM65.2 81.8L72 81.8L68.6 88.4ZM65.5 84.1L72.3 84.1L68.9 90.7ZM66.1 86.5L72.9 86.5L69.5 93.1ZM67.6 88.3L74.4 88.3L71 94.9ZM67.5 89.6L74.3 89.6L70.9 96.2ZM69.3 92.1L76.1 92.1L72.7 98.7ZM69.1 95.4L75.9 95.4L72.5 102ZM71 96.4L77.8 96.4L74.4 103ZM71.9 99.5L78.7 99.5L75.3 106.1ZM71.7 101.1L78.5 101.1L75.1 107.7ZM72.5 104.8L79.3 104.8L75.9 111.4ZM73.2 105.6L80 105.6L76.6 112.2ZM73.8 107.9L80.6 107.9L77.2 114.5ZM75 111.4L81.8 111.4L78.4 118ZM75.4 112.5L82.2 112.5L78.8 119.1ZM77.6 116L84.4 116L81 122.6ZM78.5 117L85.3 117L81.9 123.6ZM78.3 120.4L85.1 120.4L81.7 127ZM79.5 122.2L86.3 122.2L82.9 128.8ZM80.2 123.3L87 123.3L83.6 129.9ZM81.2 126.7L88 126.7L84.6 133.3ZM82.8 128.6L89.6 128.6L86.2 135.2ZM83.2 130.8L90 130.8L86.6 137.4ZM84.2 133L91 133L87.6 139.6ZM85.8 134.6L92.6 134.6L89.2 141.2ZM86.5 137.9L93.3 137.9L89.9 144.5ZM88 138.9L94.8 138.9L91.4 145.5ZM89.2 142.1L96 142.1L92.6 148.7ZM89 143.3L95.8 143.3L92.4 149.9ZM90.2 145.1L97 145.1L93.6 151.7ZM92.5 147.8L99.3 147.8L95.9 154.4ZM93.4 149.5L100.2 149.5L96.8 156.1ZM93.4 152.7L100.2 152.7L96.8 159.3ZM96 154.9L102.8 154.9L99.4 161.5ZM97.1 156.1L103.9 156.1L100.5 162.7ZM98.6 157.4L105.4 157.4L102 164ZM99.6 160L106.4 160L103 166.6ZM100.3 162.2L107.1 162.2L103.7 168.8ZM102.3 163.7L109.1 163.7L105.7 170.3ZM104.1 165.1L110.9 165.1L107.5 171.7ZM105.7 167.3L112.5 167.3L109.1 173.9ZM108.4 169.5L115.2 169.5L111.8 176.1ZM109.9 171.1L116.7 171.1L113.3 177.7ZM110.7 173L117.5 173L114.1 179.6ZM112.4 173.3L119.2 173.3L115.8 179.9ZM114.5 176L121.3 176L117.9 182.6ZM115.9 177.5L122.7 177.5L119.3 184.1ZM117.5 179.8L124.3 179.8L120.9 186.4ZM119.5 180.7L126.3 180.7L122.9 187.3ZM121.2 183.1L128 183.1L124.6 189.7ZM123.5 184.3L130.3 184.3L126.9 190.9ZM124.2 186.3L131 186.3L127.6 192.9ZM125.2 187.8L132 187.8L128.6 194.4ZM128 190.2L134.8 190.2L131.4 196.8ZM128.3 192.1L135.1 192.1L131.7 198.7ZM130.4 194.1L137.2 194.1L133.8 200.7ZM132 194.6L138.8 194.6L135.4 201.2ZM134 197.5L140.8 197.5L137.4 204.1ZM135.4 199.2L142.2 199.2L138.8 205.8ZM137.5 200.1L144.3 200.1L140.9 206.7ZM138.5 202.1L145.3 202.1L141.9 208.7ZM140.3 203.6L147.1 203.6L143.7 210.2ZM142.4 206.2L149.2 206.2L145.8 212.8ZM144 206.7L150.8 206.7L147.4 213.3ZM145.2 208.6L152 208.6L148.6 215.2ZM147.9 209.5L154.7 209.5L151.3 216.1ZM149 211.2L155.8 211.2L152.4 217.8ZM151.3 212L158.1 212L154.7 218.6ZM153.7 214.8L160.5 214.8L157.1 221.4ZM155.8 215.6L162.6 215.6L159.2 222.2ZM158.5 216.7L165.3 216.7L161.9 223.3ZM160.9 216.9L167.7 216.9L164.3 223.5ZM162.7 217.3L169.5 217.3L166.1 223.9ZM165.3 218.6L172.1 218.6L168.7 225.2ZM167 219.9L173.8 219.9L170.4 226.5ZM169.1 219.2L175.9 219.2L172.5 225.8ZM172.3 220.3L179.1 220.3L175.7 226.9ZM173.4 219.9L180.2 219.9L176.8 226.5ZM176.2 220.3L183 220.3L179.6 226.9ZM179.3 221.1L186.1 221.1L182.7 227.7ZM180.8 221.9L187.6 221.9L184.2 228.5ZM183.5 222.4L190.3 222.4L186.9 229ZM185.8 223.8L192.6 223.8L189.2 230.4ZM187.4 224.4L194.2 224.4L190.8 231ZM190.1 226.9L196.9 226.9L193.5 233.5ZM190.6 228L197.4 228L194 234.6ZM193.5 230.4L200.3 230.4L196.9 237ZM194.4 230.2L201.2 230.2L197.8 236.8ZM197.2 231.7L204 231.7L200.6 238.3ZM200.1 233.2L206.9 233.2L203.5 239.8ZM201.5 233.5L208.3 233.5L204.9 240.1ZM204.1 235.1L210.9 235.1L207.5 241.7ZM205.8 234.9L212.6 234.9L209.2 241.5ZM208 235.8L214.8 235.8L211.4 242.4ZM210.2 236.7L217 236.7L213.6 243.3ZM213.4 236.6L220.2 236.6L216.8 243.2ZM215 236.6L221.8 236.6L218.4 243.2ZM218 238L224.8 238L221.4 244.6ZM220.5 237.6L227.3 237.6L223.9 244.2ZM223.5 238.6L230.3 238.6L226.9 245.2ZM225.1 238.4L231.9 238.4L228.5 245ZM227.1 240.2L233.9 240.2L230.5 246.8ZM229.1 240.3L235.9 240.3L232.5 246.9ZM232.2 240.7L239 240.7L235.6 247.3ZM234.7 242.3L241.5 242.3L238.1 248.9ZM237.1 243L243.9 243L240.5 249.6ZM238.2 242.9L245 242.9L241.6 249.5ZM240.8 244.3L247.6 244.3L244.2 250.9ZM242.6 246.2L249.4 246.2L246 252.8ZM244.8 246.9L251.6 246.9L248.2 253.5ZM248.3 246.3L255.1 246.3L251.7 252.9ZM250.7 247.3L257.5 247.3L254.1 253.9ZM251.1 247.3L257.9 247.3L254.5 253.9Z" fill="#000"/>
<path d="M257 248L382 248L382.3 257.2L474 257.2" fill="none" stroke="#000" stroke-width="1.3" stroke-linejoin="round" stroke-linecap="butt"/>
<path d="M256 245h6v6h-6ZM258.6 245h6v6h-6ZM261.2 245h6v6h-6ZM263.8 245h6v6h-6ZM266.4 245h6v6h-6ZM269.1 245h6v6h-6ZM271.7 245h6v6h-6ZM274.3 245h6v6h-6ZM276.9 245h6v6h-6ZM279.5 245h6v6h-6ZM287.5 245h6v6h-6ZM294 245h6v6h-6ZM296.6 245h6v6h-6ZM299.1 245h6v6h-6ZM301.7 245h6v6h-6ZM304.3 245h6v6h-6ZM306.9 245h6v6h-6ZM309.4 245h6v6h-6ZM312 245h6v6h-6ZM322 245h6v6h-6ZM330 245h6v6h-6ZM342.6 245h6v6h-6ZM345.4 245h6v6h-6ZM354.5 245h6v6h-6ZM356.9 245h6v6h-6ZM359.4 245h6v6h-6ZM361.8 245h6v6h-6ZM364.2 245h6v6h-6ZM366.7 245h6v6h-6ZM369.1 245h6v6h-6ZM371.6 245h6v6h-6ZM374 245h6v6h-6ZM383 254.2h6v6h-6ZM398 254.2h6v6h-6ZM400.2 254.2h6v6h-6ZM402.3 254.2h6v6h-6ZM404.5 254.2h6v6h-6ZM411.5 254.2h6v6h-6ZM414.1 254.2h6v6h-6ZM416.8 254.2h6v6h-6ZM419.4 254.2h6v6h-6ZM422 254.2h6v6h-6ZM433.5 254.2h6v6h-6ZM440.3 254.2h6v6h-6ZM471 254.2h6v6h-6Z" fill="#000"/>
<path d="M250 247L258 252L264 256.5L268 263L302 263L302.3 266L346.5 266L347 270L368 270L368.3 276L373 276L373.3 286L469 286" fill="none" stroke="#000" stroke-width="1.3" stroke-linejoin="round" stroke-linecap="butt"/>
<path d="M248.1 245.6L255.9 245.6L252 252.8ZM251.1 247.6L258.9 247.6L255 254.8ZM254.1 249.6L261.9 249.6L258 256.8ZM257.1 251.6L264.9 251.6L261 258.8ZM260.1 254.1L267.9 254.1L264 261.3ZM262.6 257.1L270.4 257.1L266.5 264.3ZM264.6 260.6L272.4 260.6L268.5 267.8ZM274.6 261.1L282.4 261.1L278.5 268.3ZM278.1 261.1L285.9 261.1L282 268.3ZM281.6 261.1L289.4 261.1L285.5 268.3ZM289.6 261.1L297.4 261.1L293.5 268.3ZM293.1 261.1L300.9 261.1L297 268.3ZM295.6 261.1L303.4 261.1L299.5 268.3ZM300.1 264.1L307.9 264.1L304 271.3ZM306.1 264.1L313.9 264.1L310 271.3ZM322.1 264.1L329.9 264.1L326 271.3ZM326.1 264.1L333.9 264.1L330 271.3ZM329.1 264.1L336.9 264.1L333 271.3ZM336.1 264.1L343.9 264.1L340 271.3ZM338.6 264.1L346.4 264.1L342.5 271.3ZM346.1 268.1L353.9 268.1L350 275.3ZM351.1 268.1L358.9 268.1L355 275.3ZM356.1 268.1L363.9 268.1L360 275.3ZM362.1 268.1L369.9 268.1L366 275.3ZM367.6 274.6L375.4 274.6L371.5 281.8Z" fill="#000"/>
<path d="M380.1 284.1L387.9 284.1L384 291.3ZM391.1 284.1L398.9 284.1L395 291.3ZM402.1 284.1L409.9 284.1L406 291.3ZM408.1 284.1L415.9 284.1L412 291.3ZM414.1 284.1L421.9 284.1L418 291.3ZM415.6 284.1L423.4 284.1L419.5 291.3ZM443.1 284.1L450.9 284.1L447 291.3ZM459.1 284.1L466.9 284.1L463 291.3ZM465.1 284.1L472.9 284.1L469 291.3Z" fill="#000"/>
<path d="M51.6 446L53.1 590L54 725L54.2 798.8H508.8" fill="none" stroke="#000" stroke-width="1.4"/>
<path d="M47.3 449.8H52.2" stroke="#000" stroke-width="2.6" stroke-linecap="round"/>
<path d="M48 517.7H52.9" stroke="#000" stroke-width="2.6" stroke-linecap="round"/>
<path d="M48.8 588.1H53.7" stroke="#000" stroke-width="2.6" stroke-linecap="round"/>
<path d="M49.3 658.1H54.2" stroke="#000" stroke-width="2.6" stroke-linecap="round"/>
<path d="M49.7 729H54.6" stroke="#000" stroke-width="2.6" stroke-linecap="round"/>
<path d="M49.9 798.8H54.8" stroke="#000" stroke-width="2.6" stroke-linecap="round"/>
<path d="M54.3 798.8V802.6" stroke="#000" stroke-width="2.4" stroke-linecap="round"/>
<path d="M91.8 798.8V802.6" stroke="#000" stroke-width="2.4" stroke-linecap="round"/>
<path d="M130.5 798.8V802.6" stroke="#000" stroke-width="2.4" stroke-linecap="round"/>
<path d="M168.1 798.8V802.6" stroke="#000" stroke-width="2.4" stroke-linecap="round"/>
<path d="M205.5 798.8V802.6" stroke="#000" stroke-width="2.4" stroke-linecap="round"/>
<path d="M244.2 798.8V802.6" stroke="#000" stroke-width="2.4" stroke-linecap="round"/>
<path d="M281.3 798.8V802.6" stroke="#000" stroke-width="2.4" stroke-linecap="round"/>
<path d="M318.3 798.8V802.6" stroke="#000" stroke-width="2.4" stroke-linecap="round"/>
<path d="M356.8 798.8V802.6" stroke="#000" stroke-width="2.4" stroke-linecap="round"/>
<path d="M394 798.8V802.6" stroke="#000" stroke-width="2.4" stroke-linecap="round"/>
<path d="M431.3 798.8V802.6" stroke="#000" stroke-width="2.4" stroke-linecap="round"/>
<path d="M469.5 798.8V802.6" stroke="#000" stroke-width="2.4" stroke-linecap="round"/>
<path d="M507.2 798.8V802.6" stroke="#000" stroke-width="2.4" stroke-linecap="round"/>
<path d="M53 449.5L60 450.5L70 453.5L80 455.8L100 456.8L110 458L120 462L130 465L140 466L150 467L160 467L168 468L178 475L190 477L200 478.5L210 483L220 485L230 486L240 487L252 487.4L262 488.4L417 488.4L417.3 486.6L479 486.6" fill="none" stroke="#000" stroke-width="1.3" stroke-linejoin="round" stroke-linecap="butt"/>
<path d="M53 449.5L60 450.5L70 453.5L80 455.8L100 456.8L110 458L120 462L130 465L140 466L150 467L160 467L168 468L178 475L190 477L200 478.5" fill="none" stroke="#000" stroke-width="7" stroke-linejoin="round" stroke-linecap="round"/>
<path d="M200 478.5L210 483L220 485L230 486L240 487L252 487.4L262 488.4" fill="none" stroke="#000" stroke-width="5.4" stroke-linejoin="round" stroke-linecap="round"/>
<path d="M260 488.9L417 488.9" fill="none" stroke="#000" stroke-width="3.6" stroke-linejoin="round" stroke-linecap="butt"/>
<path d="M48.5 449.5L52.4 445.6L56.3 449.5L52.4 453.4ZM51.1 450.2L55 446.3L58.9 450.2L55 454.1ZM53.9 449.6L57.8 445.7L61.7 449.6L57.8 453.5ZM55.5 450.3L59.4 446.4L63.3 450.3L59.4 454.2ZM57.4 450.7L61.3 446.8L65.2 450.7L61.3 454.6ZM59.6 451.9L63.5 448L67.4 451.9L63.5 455.8ZM61.8 451.8L65.7 447.9L69.6 451.8L65.7 455.7ZM63.7 452.8L67.6 448.9L71.5 452.8L67.6 456.7ZM66.3 453.2L70.2 449.3L74.1 453.2L70.2 457.1ZM68.6 453.7L72.5 449.8L76.4 453.7L72.5 457.6ZM70.7 454.6L74.6 450.7L78.5 454.6L74.6 458.5ZM72.2 455.3L76.1 451.4L80 455.3L76.1 459.2ZM74.6 455.5L78.5 451.6L82.4 455.5L78.5 459.4ZM77 456L80.9 452.1L84.8 456L80.9 459.9ZM79.1 455.4L83 451.5L86.9 455.4L83 459.3ZM81.7 456.5L85.6 452.6L89.5 456.5L85.6 460.4ZM83.5 456.3L87.4 452.4L91.3 456.3L87.4 460.2ZM85.4 456.8L89.3 452.9L93.2 456.8L89.3 460.7ZM88.1 456.1L92 452.2L95.9 456.1L92 460ZM90.5 457.1L94.4 453.2L98.3 457.1L94.4 461ZM92.1 457.2L96 453.3L99.9 457.2L96 461.1ZM94.5 456.3L98.4 452.4L102.3 456.3L98.4 460.2ZM97 456.7L100.9 452.8L104.8 456.7L100.9 460.6ZM99.2 457.2L103.1 453.3L107 457.2L103.1 461.1ZM100.6 457.4L104.5 453.5L108.4 457.4L104.5 461.3ZM103.7 457.6L107.6 453.7L111.5 457.6L107.6 461.5ZM105.5 458.4L109.4 454.5L113.3 458.4L109.4 462.3ZM107.5 458.6L111.4 454.7L115.3 458.6L111.4 462.5ZM109.7 459.8L113.6 455.9L117.5 459.8L113.6 463.7ZM111.3 459.7L115.2 455.8L119.1 459.7L115.2 463.6ZM114 461.1L117.9 457.2L121.8 461.1L117.9 465ZM115.5 462.3L119.4 458.4L123.3 462.3L119.4 466.2ZM118.2 462.6L122.1 458.7L126 462.6L122.1 466.5ZM120.5 463.5L124.4 459.6L128.3 463.5L124.4 467.4ZM122.3 463.5L126.2 459.6L130.1 463.5L126.2 467.4ZM123.5 464.6L127.4 460.7L131.3 464.6L127.4 468.5ZM126.5 464.8L130.4 460.9L134.3 464.8L130.4 468.7ZM128.4 465.3L132.3 461.4L136.2 465.3L132.3 469.2ZM130.3 465.7L134.2 461.8L138.1 465.7L134.2 469.6ZM132.9 465.5L136.8 461.6L140.7 465.5L136.8 469.4ZM134.5 466L138.4 462.1L142.3 466L138.4 469.9ZM136.9 466.4L140.8 462.5L144.7 466.4L140.8 470.3ZM139 466.2L142.9 462.3L146.8 466.2L142.9 470.1ZM141.2 466.4L145.1 462.5L149 466.4L145.1 470.3ZM143.8 466.3L147.7 462.4L151.6 466.3L147.7 470.2ZM145.4 467L149.3 463.1L153.2 467L149.3 470.9ZM147.8 467L151.7 463.1L155.6 467L151.7 470.9ZM149.9 466.5L153.8 462.6L157.7 466.5L153.8 470.4ZM152.6 467.5L156.5 463.6L160.4 467.5L156.5 471.4ZM155.2 467L159.1 463.1L163 467L159.1 470.9ZM156.8 466.6L160.7 462.7L164.6 466.6L160.7 470.5ZM158.8 467.2L162.7 463.3L166.6 467.2L162.7 471.1ZM161.8 467.2L165.7 463.3L169.6 467.2L165.7 471.1ZM164 467.9L167.9 464L171.8 467.9L167.9 471.8ZM165.3 468.6L169.2 464.7L173.1 468.6L169.2 472.5ZM167.7 469.8L171.6 465.9L175.5 469.8L171.6 473.7ZM169.1 471.4L173 467.5L176.9 471.4L173 475.3ZM170.4 472.3L174.3 468.4L178.2 472.3L174.3 476.2ZM173.2 474.3L177.1 470.4L181 474.3L177.1 478.2ZM174.7 475.5L178.6 471.6L182.5 475.5L178.6 479.4ZM176.1 475.7L180 471.8L183.9 475.7L180 479.6ZM179.1 475.5L183 471.6L186.9 475.5L183 479.4ZM180.9 476.7L184.8 472.8L188.7 476.7L184.8 480.6ZM182.9 476.8L186.8 472.9L190.7 476.8L186.8 480.7ZM184.9 477.1L188.8 473.2L192.7 477.1L188.8 481ZM187.2 477.2L191.1 473.3L195 477.2L191.1 481.1ZM189.5 478L193.4 474.1L197.3 478L193.4 481.9ZM192.1 477.9L196 474L199.9 477.9L196 481.8ZM194.2 478.1L198.1 474.2L202 478.1L198.1 482ZM196.5 478.2L200.4 474.3L204.3 478.2L200.4 482.1ZM198.2 479.5L202.1 475.6L206 479.5L202.1 483.4ZM200 479.8L203.9 475.9L207.8 479.8L203.9 483.7ZM201.8 481.4L205.7 477.5L209.6 481.4L205.7 485.3ZM203.8 482.5L207.7 478.6L211.6 482.5L207.7 486.4ZM206.2 483.6L210.1 479.7L214 483.6L210.1 487.5ZM208.8 483.7L212.7 479.8L216.6 483.7L212.7 487.6ZM210.4 483.3L214.3 479.4L218.2 483.3L214.3 487.2ZM212.7 484.6L216.6 480.7L220.5 484.6L216.6 488.5ZM215.3 484.4L219.2 480.5L223.1 484.4L219.2 488.3ZM216.6 485.7L220.5 481.8L224.4 485.7L220.5 489.6ZM219.5 485.3L223.4 481.4L227.3 485.3L223.4 489.2ZM221.7 485.1L225.6 481.2L229.5 485.1L225.6 489ZM223.6 485.9L227.5 482L231.4 485.9L227.5 489.8ZM225.9 485.6L229.8 481.7L233.7 485.6L229.8 489.5ZM227.5 486.3L231.4 482.4L235.3 486.3L231.4 490.2ZM230.6 486L234.5 482.1L238.4 486L234.5 489.9ZM231.7 486.1L235.6 482.2L239.5 486.1L235.6 490ZM234.9 486.7L238.8 482.8L242.7 486.7L238.8 490.6ZM236.7 487.6L240.6 483.7L244.5 487.6L240.6 491.5ZM239 486.8L242.9 482.9L246.8 486.8L242.9 490.7ZM241.3 486.6L245.2 482.7L249.1 486.6L245.2 490.5ZM243 487.5L246.9 483.6L250.8 487.5L246.9 491.4ZM245.1 486.8L249 482.9L252.9 486.8L249 490.7ZM247.7 487.2L251.6 483.3L255.5 487.2L251.6 491.1ZM250.5 487.1L254.4 483.2L258.3 487.1L254.4 491ZM252.4 487.7L256.3 483.8L260.2 487.7L256.3 491.6ZM254.6 488L258.5 484.1L262.4 488L258.5 491.9ZM256.7 488L260.6 484.1L264.5 488L260.6 491.9ZM257.8 488.3L261.7 484.4L265.6 488.3L261.7 492.2Z" fill="#000"/>
<path d="M261.9 489.2L265.3 489.2L263.6 491.8ZM264.7 489.2L268.1 489.2L266.4 491.8ZM268.2 489.2L271.6 489.2L269.9 491.8ZM272.2 489.2L275.6 489.2L273.9 491.8ZM275.3 489.2L278.7 489.2L277 491.8ZM279.4 489.2L282.8 489.2L281.1 491.8ZM283.6 489.2L287 489.2L285.3 491.8ZM287.3 489.2L290.7 489.2L289 491.8ZM291.1 489.2L294.5 489.2L292.8 491.8ZM294.2 489.2L297.6 489.2L295.9 491.8ZM297.3 489.2L300.7 489.2L299 491.8ZM301.1 489.2L304.5 489.2L302.8 491.8ZM305.4 489.2L308.8 489.2L307.1 491.8ZM308.8 489.2L312.2 489.2L310.5 491.8ZM313.2 489.2L316.6 489.2L314.9 491.8ZM316.3 489.2L319.7 489.2L318 491.8ZM321 489.2L324.4 489.2L322.7 491.8ZM324.4 489.2L327.8 489.2L326.1 491.8ZM328.2 489.2L331.6 489.2L329.9 491.8ZM332.1 489.2L335.5 489.2L333.8 491.8ZM335.3 489.2L338.7 489.2L337 491.8ZM338.9 489.2L342.3 489.2L340.6 491.8ZM342.3 489.2L345.7 489.2L344 491.8ZM345.5 489.2L348.9 489.2L347.2 491.8ZM350.7 489.2L354.1 489.2L352.4 491.8ZM353.8 489.2L357.2 489.2L355.5 491.8ZM356.7 489.2L360.1 489.2L358.4 491.8ZM362.1 489.2L365.5 489.2L363.8 491.8ZM365.1 489.2L368.5 489.2L366.8 491.8ZM368.8 489.2L372.2 489.2L370.5 491.8ZM372.2 489.2L375.6 489.2L373.9 491.8ZM375.3 489.2L378.7 489.2L377 491.8ZM380.7 489.2L384.1 489.2L382.4 491.8ZM382.7 489.2L386.1 489.2L384.4 491.8ZM386.8 489.2L390.2 489.2L388.5 491.8ZM391.8 489.2L395.2 489.2L393.5 491.8ZM393.7 489.2L397.1 489.2L395.4 491.8ZM398.2 489.2L401.6 489.2L399.9 491.8ZM401.9 489.2L405.3 489.2L403.6 491.8ZM405.1 489.2L408.5 489.2L406.8 491.8ZM410.1 489.2L413.5 489.2L411.8 491.8ZM412.8 489.2L416.2 489.2L414.5 491.8Z" fill="#000"/>
<path d="M414.5 486.6L418.5 482.6L422.5 486.6L418.5 490.6ZM417.5 486.6L421.5 482.6L425.5 486.6L421.5 490.6ZM427 486.6L431 482.6L435 486.6L431 490.6ZM429.6 486.6L433.6 482.6L437.6 486.6L433.6 490.6ZM432.1 486.6L436.1 482.6L440.1 486.6L436.1 490.6ZM434.7 486.6L438.7 482.6L442.7 486.6L438.7 490.6ZM437.3 486.6L441.3 482.6L445.3 486.6L441.3 490.6ZM439.9 486.6L443.9 482.6L447.9 486.6L443.9 490.6ZM442.4 486.6L446.4 482.6L450.4 486.6L446.4 490.6ZM445 486.6L449 482.6L453 486.6L449 490.6ZM449.5 486.6L453.5 482.6L457.5 486.6L453.5 490.6ZM452.5 486.6L456.5 482.6L460.5 486.6L456.5 490.6ZM455 486.6L459 482.6L463 486.6L459 490.6ZM475.6 486.6L479.6 482.6L483.6 486.6L479.6 490.6Z" fill="#000"/>
<path d="M53 450L57 455L61 460L70 467L75 473L79 480L85.5 490L94 496.5L100 502L106 506.5L110 511L116 514.5L120 517.5L126 519.8L130 521L140 522L148 524L154 528L170 529L190 529.4L200 529L210 531L220 533L230 534L240 536.5L250 541.5L260 543.5L275 544L276 547L482 547" fill="none" stroke="#000" stroke-width="1.3" stroke-linejoin="round" stroke-linecap="butt"/>
<path d="M53 450L57 455L61 460L70 467L75 473L79 480L85.5 490L94 496.5L100 502L106 506.5L110 511L116 514.5L120 517.5L126 519.8L130 521L140 522L148 524L154 528" fill="none" stroke="#000" stroke-width="6.6" stroke-linejoin="round" stroke-linecap="round"/>
<path d="M154 528L170 529L190 529.4L200 529L210 531L220 533L230 534L240 536.5L250 541.5L260 543.5L275 544" fill="none" stroke="#000" stroke-width="5.6" stroke-linejoin="round" stroke-linecap="round"/>
<path d="M276 546.1L448 546.1" fill="none" stroke="#000" stroke-width="3.8" stroke-linejoin="round" stroke-linecap="butt"/>
<path d="M48.7 447.2L56.1 447.2L52.4 454ZM50.1 449.2L57.5 449.2L53.8 456ZM52.5 451.2L59.9 451.2L56.2 458ZM52.9 452.6L60.3 452.6L56.6 459.4ZM54.6 454.1L62 454.1L58.3 460.9ZM55.9 455.6L63.3 455.6L59.6 462.4ZM57.2 457.7L64.6 457.7L60.9 464.5ZM58.9 459.4L66.3 459.4L62.6 466.2ZM60.5 460.8L67.9 460.8L64.2 467.6ZM62.5 461.1L69.9 461.1L66.2 467.9ZM64.9 463L72.3 463L68.6 469.8ZM66.6 464.3L74 464.3L70.3 471.1ZM67.9 465.5L75.3 465.5L71.6 472.3ZM69.3 467.7L76.7 467.7L73 474.5ZM71.1 468.8L78.5 468.8L74.8 475.6ZM71.3 471.3L78.7 471.3L75 478.1ZM73.4 472.9L80.8 472.9L77.1 479.7ZM74.2 475L81.6 475L77.9 481.8ZM74.9 476.8L82.3 476.8L78.6 483.6ZM76.4 478.2L83.8 478.2L80.1 485ZM77.2 480.9L84.6 480.9L80.9 487.7ZM78.3 482.4L85.7 482.4L82 489.2ZM79.5 484.1L86.9 484.1L83.2 490.9ZM81.2 486.4L88.6 486.4L84.9 493.2ZM83 487.7L90.4 487.7L86.7 494.5ZM83.8 488.9L91.2 488.9L87.5 495.7ZM85.4 490.1L92.8 490.1L89.1 496.9ZM87.8 491.9L95.2 491.9L91.5 498.7ZM89.1 492.7L96.5 492.7L92.8 499.5ZM90.6 494.1L98 494.1L94.3 500.9ZM92.7 495.7L100.1 495.7L96.4 502.5ZM94.8 497.6L102.2 497.6L98.5 504.4ZM95.8 498.9L103.2 498.9L99.5 505.7ZM97.2 500.6L104.6 500.6L100.9 507.4ZM99.8 501.5L107.2 501.5L103.5 508.3ZM101.5 502.7L108.9 502.7L105.2 509.5ZM102.5 504.1L109.9 504.1L106.2 510.9ZM104 506.2L111.4 506.2L107.7 513ZM106 508L113.4 508L109.7 514.8ZM107.1 509.3L114.5 509.3L110.8 516.1ZM109.4 510L116.8 510L113.1 516.8ZM111.3 511.1L118.7 511.1L115 517.9ZM112.8 512.3L120.2 512.3L116.5 519.1ZM115.1 514L122.5 514L118.8 520.8ZM117.3 514.6L124.7 514.6L121 521.4ZM119.3 516.1L126.7 516.1L123 522.9ZM121.1 517.1L128.5 517.1L124.8 523.9ZM122.5 517.6L129.9 517.6L126.2 524.4ZM125.5 517.4L132.9 517.4L129.2 524.2ZM127.3 518.9L134.7 518.9L131 525.7ZM129.1 519L136.5 519L132.8 525.8ZM132 518.7L139.4 518.7L135.7 525.5ZM133.3 518.7L140.7 518.7L137 525.5ZM136.3 519.2L143.7 519.2L140 526ZM137.9 519.7L145.3 519.7L141.6 526.5ZM140.7 520L148.1 520L144.4 526.8ZM141.8 521.3L149.2 521.3L145.5 528.1ZM144.2 521.2L151.6 521.2L147.9 528ZM146.9 522.3L154.3 522.3L150.6 529.1ZM147.6 524.3L155 524.3L151.3 531.1ZM149.6 524.7L157 524.7L153.3 531.5ZM152.6 525.1L160 525.1L156.3 531.9ZM154.8 525.3L162.2 525.3L158.5 532.1ZM156.2 525.3L163.6 525.3L159.9 532.1ZM158.7 525.9L166.1 525.9L162.4 532.7ZM160.7 525.9L168.1 525.9L164.4 532.7ZM162.8 526.5L170.2 526.5L166.5 533.3ZM165.8 526.5L173.2 526.5L169.5 533.3ZM167.8 525.8L175.2 525.8L171.5 532.6ZM169.3 526L176.7 526L173 532.8ZM171.4 527L178.8 527L175.1 533.8ZM174.5 526.9L181.9 526.9L178.2 533.7ZM176.3 526L183.7 526L180 532.8ZM178.4 526L185.8 526L182.1 532.8ZM181.1 526.3L188.5 526.3L184.8 533.1ZM182.6 527.1L190 527.1L186.3 533.9ZM184.7 527.2L192.1 527.2L188.4 534ZM187 526.8L194.4 526.8L190.7 533.6ZM189 527L196.4 527L192.7 533.8ZM191.5 526.3L198.9 526.3L195.2 533.1ZM194 526.5L201.4 526.5L197.7 533.3ZM195.7 525.8L203.1 525.8L199.4 532.6ZM198.3 526.1L205.7 526.1L202 532.9ZM200.8 526.9L208.2 526.9L204.5 533.7ZM202.1 527.3L209.5 527.3L205.8 534.1ZM204.2 527.7L211.6 527.7L207.9 534.5ZM206.9 528.3L214.3 528.3L210.6 535.1ZM208.8 528.6L216.2 528.6L212.5 535.4ZM211.1 529.6L218.5 529.6L214.8 536.4ZM213.2 530L220.6 530L216.9 536.8ZM215.4 529.7L222.8 529.7L219.1 536.5ZM217.2 530.8L224.6 530.8L220.9 537.6ZM219.8 530.5L227.2 530.5L223.5 537.3ZM222 531.3L229.4 531.3L225.7 538.1ZM224 530.9L231.4 530.9L227.7 537.7ZM226.2 530.7L233.6 530.7L229.9 537.5ZM228.6 531.8L236 531.8L232.3 538.6ZM230.6 532.3L238 532.3L234.3 539.1ZM232.8 533.2L240.2 533.2L236.5 540ZM234.5 534L241.9 534L238.2 540.8ZM236.5 534.6L243.9 534.6L240.2 541.4ZM238.6 535.5L246 535.5L242.3 542.3ZM240.6 535.6L248 535.6L244.3 542.4ZM242.9 537.5L250.3 537.5L246.6 544.3ZM245.3 538.5L252.7 538.5L249 545.3ZM247.5 538.4L254.9 538.4L251.2 545.2ZM248.9 538.9L256.3 538.9L252.6 545.7ZM251.5 539.7L258.9 539.7L255.2 546.5ZM253.7 540.5L261.1 540.5L257.4 547.3ZM256.1 540.8L263.5 540.8L259.8 547.6ZM258.2 540.9L265.6 540.9L261.9 547.7ZM259.4 541.4L266.8 541.4L263.1 548.2ZM261.6 540.5L269 540.5L265.3 547.3ZM264.7 540.8L272.1 540.8L268.4 547.6ZM266.7 540.6L274.1 540.6L270.4 547.4ZM268.3 541.5L275.7 541.5L272 548.3ZM270.3 541.3L277.7 541.3L274 548.1ZM271.8 540.9L279.2 540.9L275.5 547.7Z" fill="#000"/>
<path d="M274.1 544.3L281.5 544.3L277.8 551.5ZM277.7 544.3L285.1 544.3L281.4 551.5ZM281.1 544.3L288.5 544.3L284.8 551.5ZM284.9 544.3L292.3 544.3L288.6 551.5ZM288.3 544.3L295.7 544.3L292 551.5ZM290.8 544.3L298.2 544.3L294.5 551.5ZM294.6 544.3L302 544.3L298.3 551.5ZM298.7 544.3L306.1 544.3L302.4 551.5ZM303 544.3L310.4 544.3L306.7 551.5ZM305.3 544.3L312.7 544.3L309 551.5ZM309.4 544.3L316.8 544.3L313.1 551.5ZM312.3 544.3L319.7 544.3L316 551.5ZM317 544.3L324.4 544.3L320.7 551.5ZM319.9 544.3L327.3 544.3L323.6 551.5ZM323.5 544.3L330.9 544.3L327.2 551.5ZM327.3 544.3L334.7 544.3L331 551.5ZM330 544.3L337.4 544.3L333.7 551.5ZM334.5 544.3L341.9 544.3L338.2 551.5ZM338.2 544.3L345.6 544.3L341.9 551.5ZM341.8 544.3L349.2 544.3L345.5 551.5ZM344.5 544.3L351.9 544.3L348.2 551.5ZM347.9 544.3L355.3 544.3L351.6 551.5ZM351.4 544.3L358.8 544.3L355.1 551.5ZM356.1 544.3L363.5 544.3L359.8 551.5ZM358.9 544.3L366.3 544.3L362.6 551.5ZM362.4 544.3L369.8 544.3L366.1 551.5ZM366.1 544.3L373.5 544.3L369.8 551.5ZM370 544.3L377.4 544.3L373.7 551.5ZM372.9 544.3L380.3 544.3L376.6 551.5ZM376.5 544.3L383.9 544.3L380.2 551.5ZM380.7 544.3L388.1 544.3L384.4 551.5ZM384.3 544.3L391.7 544.3L388 551.5ZM387.1 544.3L394.5 544.3L390.8 551.5ZM390.3 544.3L397.7 544.3L394 551.5ZM395.2 544.3L402.6 544.3L398.9 551.5ZM398.4 544.3L405.8 544.3L402.1 551.5ZM401.8 544.3L409.2 544.3L405.5 551.5ZM405 544.3L412.4 544.3L408.7 551.5ZM409.4 544.3L416.8 544.3L413.1 551.5ZM412.1 544.3L419.5 544.3L415.8 551.5ZM415.3 544.3L422.7 544.3L419 551.5ZM418.7 544.3L426.1 544.3L422.4 551.5ZM422.7 544.3L430.1 544.3L426.4 551.5ZM426.6 544.3L434 544.3L430.3 551.5ZM429.8 544.3L437.2 544.3L433.5 551.5ZM434.3 544.3L441.7 544.3L438 551.5ZM437.3 544.3L444.7 544.3L441 551.5ZM440.6 544.3L448 544.3L444.3 551.5ZM444.5 544.3L451.9 544.3L448.2 551.5ZM452.8 544.3L460.2 544.3L456.5 551.5ZM457.3 544.3L464.7 544.3L461 551.5ZM463.3 544.3L470.7 544.3L467 551.5ZM478.3 544.3L485.7 544.3L482 551.5Z" fill="#000"/>
<path d="M53 450L58 457L63 466L67 480L70.5 490L74 500.5L78 510L84 517L90 525L96 531L100 535L104 538.5L106 546L116 552L126 556L132 563L138 565L150 565L156 569L162 574L168 578L180 579L190 581L200 583L208 586L214 589L219 593L259 593L267 593L267.3 596.4L300.3 596.4L300.6 602.4L314 602.4L314.3 608L472 608" fill="none" stroke="#000" stroke-width="1.3" stroke-linejoin="round" stroke-linecap="butt"/>
<path d="M53 450L58 457L63 466L67 480L70.5 490L74 500.5L78 510L84 517L90 525L96 531L100 535L104 538.5L106 546L116 552L126 556L132 563L138 565L150 565L156 569L162 574L168 578L180 579L190 581L200 583L208 586L214 589L219 593" fill="none" stroke="#000" stroke-width="3.2" stroke-linejoin="miter" stroke-linecap="round"/>
<path d="M50.2 447.2h5.9v5.9h-5.9ZM51.8 449.5h5.9v5.9h-5.9ZM53.5 452.3h5.9v5.9h-5.9ZM54.9 454.7h5.9v5.9h-5.9ZM56.5 457.4h5.9v5.9h-5.9ZM57.7 459.6h5.9v5.9h-5.9ZM59.6 462.5h5.9v5.9h-5.9ZM60.3 464.8h5.9v5.9h-5.9ZM61.1 468h5.9v5.9h-5.9ZM62.4 470.3h5.9v5.9h-5.9ZM62.8 473.4h5.9v5.9h-5.9ZM64.4 476.6h5.9v5.9h-5.9ZM65 479.2h5.9v5.9h-5.9ZM66 482.6h5.9v5.9h-5.9ZM67 484.6h5.9v5.9h-5.9ZM67.8 487.9h5.9v5.9h-5.9ZM68.3 491.1h5.9v5.9h-5.9ZM69.6 493.4h5.9v5.9h-5.9ZM70.8 496.6h5.9v5.9h-5.9ZM71.8 499.6h5.9v5.9h-5.9ZM73 501.9h5.9v5.9h-5.9ZM73.7 504.9h5.9v5.9h-5.9ZM75.3 507.5h5.9v5.9h-5.9ZM77.2 509.3h5.9v5.9h-5.9ZM78.9 511.7h5.9v5.9h-5.9ZM80.9 514.7h5.9v5.9h-5.9ZM83.1 516.5h5.9v5.9h-5.9ZM85.1 519.3h5.9v5.9h-5.9ZM86.2 521.8h5.9v5.9h-5.9ZM88.4 524.2h5.9v5.9h-5.9ZM90.5 525.6h5.9v5.9h-5.9ZM92.7 528.3h5.9v5.9h-5.9ZM95.4 530.2h5.9v5.9h-5.9ZM96.9 532.1h5.9v5.9h-5.9ZM99.7 533.7h5.9v5.9h-5.9ZM101.7 536.8h5.9v5.9h-5.9ZM102.5 539.5h5.9v5.9h-5.9ZM102.9 542.7h5.9v5.9h-5.9ZM104.6 544h5.9v5.9h-5.9ZM107.1 545.4h5.9v5.9h-5.9ZM110.3 546.8h5.9v5.9h-5.9ZM112.8 548.7h5.9v5.9h-5.9ZM115.7 550.2h5.9v5.9h-5.9ZM118.3 551.4h5.9v5.9h-5.9ZM120.5 552h5.9v5.9h-5.9ZM123.4 553.5h5.9v5.9h-5.9ZM125.6 556.2h5.9v5.9h-5.9ZM127.7 558.6h5.9v5.9h-5.9ZM129.7 560.1h5.9v5.9h-5.9ZM132.4 561.4h5.9v5.9h-5.9ZM135.5 561.9h5.9v5.9h-5.9ZM138.1 562.2h5.9v5.9h-5.9ZM140.9 562.4h5.9v5.9h-5.9ZM143.7 562.2h5.9v5.9h-5.9ZM147.2 561.8h5.9v5.9h-5.9ZM149.7 563.8h5.9v5.9h-5.9ZM152.6 565.8h5.9v5.9h-5.9ZM154.6 567.7h5.9v5.9h-5.9ZM157.2 568.9h5.9v5.9h-5.9ZM159.5 571.5h5.9v5.9h-5.9ZM162.1 573h5.9v5.9h-5.9ZM164 574.2h5.9v5.9h-5.9ZM167.1 574.9h5.9v5.9h-5.9ZM170.2 575.5h5.9v5.9h-5.9ZM173.3 575.6h5.9v5.9h-5.9ZM175.7 576.4h5.9v5.9h-5.9ZM179.1 576.3h5.9v5.9h-5.9ZM181.9 576.9h5.9v5.9h-5.9ZM184.9 577.6h5.9v5.9h-5.9ZM187.5 578.7h5.9v5.9h-5.9ZM191 579h5.9v5.9h-5.9ZM193.4 579.1h5.9v5.9h-5.9ZM196.8 580.3h5.9v5.9h-5.9ZM199.5 580.6h5.9v5.9h-5.9ZM202.4 582h5.9v5.9h-5.9ZM204.9 583.1h5.9v5.9h-5.9ZM207.6 584.5h5.9v5.9h-5.9ZM210.6 586.2h5.9v5.9h-5.9ZM212.4 587.5h5.9v5.9h-5.9ZM215.6 589.5h5.9v5.9h-5.9ZM216.1 590.4h5.9v5.9h-5.9Z" fill="#000"/>
<path d="M218 590h6v6h-6ZM220.6 590h6v6h-6ZM223.1 590h6v6h-6ZM225.7 590h6v6h-6ZM228.2 590h6v6h-6ZM230.8 590h6v6h-6ZM233.3 590h6v6h-6ZM235.9 590h6v6h-6ZM238.4 590h6v6h-6ZM241 590h6v6h-6ZM248.5 590h6v6h-6ZM250.7 590h6v6h-6ZM252.8 590h6v6h-6ZM255 590h6v6h-6ZM262 590h6v6h-6ZM276 593.4h6v6h-6ZM278.4 593.4h6v6h-6ZM280.9 593.4h6v6h-6ZM283.3 593.4h6v6h-6ZM285.8 593.4h6v6h-6ZM288.2 593.4h6v6h-6ZM290.6 593.4h6v6h-6ZM293.1 593.4h6v6h-6ZM295.5 593.4h6v6h-6ZM300 599.4h6v6h-6ZM303 599.4h6v6h-6ZM306 599.4h6v6h-6ZM309 599.4h6v6h-6ZM314 605h6v6h-6ZM316.7 605h6v6h-6ZM319.4 605h6v6h-6ZM322.1 605h6v6h-6ZM324.9 605h6v6h-6ZM327.6 605h6v6h-6ZM330.3 605h6v6h-6ZM333 605h6v6h-6ZM344 605h6v6h-6ZM347 605h6v6h-6ZM350 605h6v6h-6ZM359 605h6v6h-6ZM361.5 605h6v6h-6ZM364 605h6v6h-6ZM366.5 605h6v6h-6ZM369 605h6v6h-6ZM371.5 605h6v6h-6ZM374 605h6v6h-6ZM381.5 605h6v6h-6ZM390 605h6v6h-6ZM392 605h6v6h-6ZM394 605h6v6h-6ZM400 605h6v6h-6ZM402.4 605h6v6h-6ZM404.8 605h6v6h-6ZM407.2 605h6v6h-6ZM409.6 605h6v6h-6ZM412 605h6v6h-6ZM425.6 605h6v6h-6ZM413.5 605h6v6h-6ZM451.4 605h6v6h-6ZM458.6 605h6v6h-6ZM469 605h6v6h-6Z" fill="#000"/>
<path d="M53 450L56.5 460L59 480L61 490L63 505L66 519L70 536L74 550L78 562L82 574L87 587L92 599L98 604.5L104 614L110 621L120 626.5L132 631.5L140 638L150 643L169 643L170 646.5L178 652.5L184 656.5L192 659.5L218 659.5L219 663L238 663L239 667L375.6 667L375.9 680L470 680" fill="none" stroke="#000" stroke-width="1.3" stroke-linejoin="round" stroke-linecap="butt"/>
<path d="M53 450L56.5 460L59 480L61 490L63 505L66 519L70 536L74 550L78 562L82 574L87 587L92 599L98 604.5L104 614L110 621L120 626.5L132 631.5L140 638L150 643L169 643" fill="none" stroke="#000" stroke-width="3" stroke-linejoin="round" stroke-linecap="round"/>
<path d="M48.8 453.2L56.4 453.2L52.6 446ZM50.3 455.9L57.9 455.9L54.1 448.7ZM51.1 458.9L58.7 458.9L54.9 451.7ZM52 461.7L59.6 461.7L55.8 454.5ZM52.7 465.1L60.3 465.1L56.5 457.9ZM53.6 467.8L61.2 467.8L57.4 460.6ZM53.9 470.8L61.5 470.8L57.7 463.6ZM54.1 473.7L61.7 473.7L57.9 466.5ZM54.7 477.2L62.3 477.2L58.5 470ZM55.1 479.8L62.7 479.8L58.9 472.6ZM55.5 482.8L63.1 482.8L59.3 475.6ZM55.9 486.2L63.5 486.2L59.7 479ZM56.1 489.2L63.7 489.2L59.9 482ZM57.4 492.4L65 492.4L61.2 485.2ZM57.4 495.6L65 495.6L61.2 488.4ZM57.8 498.8L65.4 498.8L61.6 491.6ZM58.3 501.2L65.9 501.2L62.1 494ZM59.1 504.2L66.7 504.2L62.9 497ZM59 507.9L66.6 507.9L62.8 500.7ZM59.5 510.7L67.1 510.7L63.3 503.5ZM60.7 513.8L68.3 513.8L64.5 506.6ZM61 517L68.6 517L64.8 509.8ZM62 519.9L69.6 519.9L65.8 512.7ZM62.5 522.7L70.1 522.7L66.3 515.5ZM63 526.2L70.6 526.2L66.8 519ZM64.2 528.5L71.8 528.5L68 521.3ZM64.3 531.6L71.9 531.6L68.1 524.4ZM65.5 534.6L73.1 534.6L69.3 527.4ZM65.7 538.1L73.3 538.1L69.5 530.9ZM66.5 541.3L74.1 541.3L70.3 534.1ZM67.6 544.2L75.2 544.2L71.4 537ZM68.7 546.6L76.3 546.6L72.5 539.4ZM69.5 549.8L77.1 549.8L73.3 542.6ZM69.9 552.5L77.5 552.5L73.7 545.3ZM71.3 555.8L78.9 555.8L75.1 548.6ZM72 559L79.6 559L75.8 551.8ZM72.9 561.6L80.5 561.6L76.7 554.4ZM73.8 564.5L81.4 564.5L77.6 557.3ZM75.4 567.5L83 567.5L79.2 560.3ZM75.8 570.3L83.4 570.3L79.6 563.1ZM77.1 573.2L84.7 573.2L80.9 566ZM78.3 576L85.9 576L82.1 568.8ZM79.4 579.4L87 579.4L83.2 572.2ZM80.5 582L88.1 582L84.3 574.8ZM81 584.8L88.6 584.8L84.8 577.6ZM82.5 587.6L90.1 587.6L86.3 580.4ZM83.3 591L90.9 591L87.1 583.8ZM85.1 594L92.7 594L88.9 586.8ZM86.2 596.6L93.8 596.6L90 589.4ZM87.4 599.6L95 599.6L91.2 592.4ZM88.5 602.1L96.1 602.1L92.3 594.9ZM90.4 603.9L98 603.9L94.2 596.7ZM92.8 606.3L100.4 606.3L96.6 599.1ZM94.7 609.1L102.3 609.1L98.5 601.9ZM96.7 611.5L104.3 611.5L100.5 604.3ZM98.6 613.7L106.2 613.7L102.4 606.5ZM100.3 616.9L107.9 616.9L104.1 609.7ZM101.8 618.7L109.4 618.7L105.6 611.5ZM104.2 621.6L111.8 621.6L108 614.4ZM106.2 623.6L113.8 623.6L110 616.4ZM108.7 625L116.3 625L112.5 617.8ZM111.1 626.7L118.7 626.7L114.9 619.5ZM114.2 627.9L121.8 627.9L118 620.7ZM117.1 629.3L124.7 629.3L120.9 622.1ZM120 630.7L127.6 630.7L123.8 623.5ZM122.8 632.3L130.4 632.3L126.6 625.1ZM125.7 633.2L133.3 633.2L129.5 626ZM128.4 634.3L136 634.3L132.2 627.1ZM130.9 636.1L138.5 636.1L134.7 628.9ZM133.4 638.5L141 638.5L137.2 631.3ZM135.1 640.7L142.7 640.7L138.9 633.5ZM138 641.5L145.6 641.5L141.8 634.3ZM140.7 642.9L148.3 642.9L144.5 635.7ZM143.5 644.8L151.1 644.8L147.3 637.6ZM146.8 646L154.4 646L150.6 638.8ZM149.8 646.2L157.4 646.2L153.6 639ZM152.8 645.8L160.4 645.8L156.6 638.6ZM155.6 645.7L163.2 645.7L159.4 638.5ZM158.9 645.7L166.5 645.7L162.7 638.5ZM162.1 645.8L169.7 645.8L165.9 638.6ZM165.1 646L172.7 646L168.9 638.8ZM165.3 645.7L172.9 645.7L169.1 638.5Z" fill="#000"/>
<path d="M166.7 649.1L174.3 649.1L170.5 642.1ZM174.2 655.1L181.8 655.1L178 648.1ZM177.2 657.1L184.8 657.1L181 650.1ZM180.7 659.1L188.3 659.1L184.5 652.1ZM188.2 661.6L195.8 661.6L192 654.6ZM191.2 661.9L198.8 661.9L195 654.9ZM194.8 661.9L202.4 661.9L198.6 654.9ZM208.6 661.9L216.2 661.9L212.4 654.9ZM218.2 665.5L225.8 665.5L222 658.5ZM221.2 665.5L228.8 665.5L225 658.5ZM224.7 665.5L232.3 665.5L228.5 658.5ZM233.2 665.1L240.8 665.1L237 658.1ZM236 669.5L243.6 669.5L239.8 662.5ZM244.6 669.1L252.2 669.1L248.4 662.1ZM246.2 669.1L253.8 669.1L250 662.1ZM255.2 669.1L262.8 669.1L259 662.1ZM267.2 669.1L274.8 669.1L271 662.1ZM271.2 669.1L278.8 669.1L275 662.1ZM275.7 669.1L283.3 669.1L279.5 662.1ZM280.7 669.1L288.3 669.1L284.5 662.1ZM294.2 669.1L301.8 669.1L298 662.1ZM299.8 669.1L307.4 669.1L303.6 662.1ZM313.2 669.1L320.8 669.1L317 662.1ZM323.2 669.1L330.8 669.1L327 662.1ZM327.8 669.1L335.4 669.1L331.6 662.1ZM342.2 669.1L349.8 669.1L346 662.1ZM348.7 669.1L356.3 669.1L352.5 662.1ZM359.2 669.1L366.8 669.1L363 662.1ZM362.2 669.1L369.8 669.1L366 662.1ZM365.7 669.1L373.3 669.1L369.5 662.1ZM372.9 682.1L380.5 682.1L376.7 675.1ZM399.2 682.1L406.8 682.1L403 675.1ZM403.2 682.1L410.8 682.1L407 675.1ZM414.2 682.1L421.8 682.1L418 675.1ZM432.2 682.1L439.8 682.1L436 675.1ZM452.2 682.1L459.8 682.1L456 675.1ZM466.2 682.1L473.8 682.1L470 675.1Z" fill="#000"/>
<text x="2.6" y="25.5" font-size="32" text-anchor="start" style="stroke-width:1px" textLength="21.8" lengthAdjust="spacingAndGlyphs">A</text>
<text x="0.5" y="466.5" font-size="32" text-anchor="start" style="stroke-width:0.8px" textLength="22.8" lengthAdjust="spacingAndGlyphs">B</text>
<text x="45.2" y="12.3" font-size="11.5" text-anchor="end">1.0</text>
<text x="45.4" y="81" font-size="11.5" text-anchor="end">.8</text>
<text x="46" y="151.2" font-size="11.5" text-anchor="end">.6</text>
<text x="46.4" y="220.8" font-size="11.5" text-anchor="end">.4</text>
<text x="47" y="290.5" font-size="11.5" text-anchor="end">.2</text>
<text x="46.8" y="355" font-size="11.5" text-anchor="end">0.0</text>
<text x="43.4" y="453.8" font-size="11.5" text-anchor="end">1.0</text>
<text x="43.8" y="522" font-size="11.5" text-anchor="end">.8</text>
<text x="45.2" y="592.4" font-size="11.5" text-anchor="end">.6</text>
<text x="45.4" y="662.4" font-size="11.5" text-anchor="end">.4</text>
<text x="45.6" y="732.4" font-size="11.5" text-anchor="end">.2</text>
<text x="45.8" y="796.1" font-size="11.5" text-anchor="end">0.0</text>
<text x="54.8" y="374.9" font-size="12" text-anchor="middle">0</text>
<text x="53.5" y="817" font-size="12" text-anchor="middle">0</text>
<text x="93.3" y="374.9" font-size="12" text-anchor="middle">20</text>
<text x="92.1" y="817" font-size="12" text-anchor="middle">20</text>
<text x="131.5" y="374.9" font-size="12" text-anchor="middle">40</text>
<text x="130.8" y="817" font-size="12" text-anchor="middle">40</text>
<text x="169.5" y="374.9" font-size="12" text-anchor="middle">60</text>
<text x="168.4" y="817" font-size="12" text-anchor="middle">60</text>
<text x="206.6" y="374.9" font-size="12" text-anchor="middle">80</text>
<text x="205.8" y="817" font-size="12" text-anchor="middle">80</text>
<text x="245.3" y="374.9" font-size="12" text-anchor="middle">100</text>
<text x="244.5" y="817" font-size="12" text-anchor="middle">100</text>
<text x="282.1" y="374.9" font-size="12" text-anchor="middle">120</text>
<text x="281.6" y="817" font-size="12" text-anchor="middle">120</text>
<text x="319.1" y="374.9" font-size="12" text-anchor="middle">140</text>
<text x="318.6" y="817" font-size="12" text-anchor="middle">140</text>
<text x="357.3" y="374.9" font-size="12" text-anchor="middle">160</text>
<text x="357.1" y="817" font-size="12" text-anchor="middle">160</text>
<text x="394.7" y="374.9" font-size="12" text-anchor="middle">180</text>
<text x="394.3" y="817" font-size="12" text-anchor="middle">180</text>
<text x="431.6" y="374.9" font-size="12" text-anchor="middle">200</text>
<text x="431.6" y="817" font-size="12" text-anchor="middle">200</text>
<text x="469.8" y="374.9" font-size="12" text-anchor="middle">220</text>
<text x="469.8" y="817" font-size="12" text-anchor="middle">220</text>
<text x="507.5" y="374.9" font-size="12" text-anchor="middle">240</text>
<text x="507.5" y="817" font-size="12" text-anchor="middle">240</text>
<text x="229.8" y="413.9" font-size="15.3" text-anchor="start" textLength="104.6" lengthAdjust="spacingAndGlyphs">Time (Months)</text>
<text x="229.4" y="858.4" font-size="15.3" text-anchor="start" textLength="105" lengthAdjust="spacingAndGlyphs">Time (Months)</text>
<text transform="translate(13.8 255.2) rotate(-90)" font-size="14.6" textLength="148" lengthAdjust="spacingAndGlyphs">Proportion Surviving</text>
<text transform="translate(13.4 697.2) rotate(-90)" font-size="14.6" textLength="149" lengthAdjust="spacingAndGlyphs">Proportion Surviving</text>
<text x="220" y="117" font-size="14" text-anchor="start" textLength="161.6" lengthAdjust="spacingAndGlyphs" xml:space="preserve">Extremity/trunk  (n=2,535)</text>
<text x="234" y="173" font-size="14" text-anchor="start" textLength="91.4" lengthAdjust="spacingAndGlyphs" xml:space="preserve">Other  (n=580)</text>
<text x="277" y="229" font-size="14" text-anchor="start" textLength="106" lengthAdjust="spacingAndGlyphs" xml:space="preserve">Visceral  (n=844)</text>
<text x="332.5" y="312.3" font-size="14" text-anchor="start" textLength="174.8" lengthAdjust="spacingAndGlyphs" xml:space="preserve">Retroperitoneal/1A  (n=718)</text>
<text x="275" y="477" font-size="14" text-anchor="start" textLength="114" lengthAdjust="spacingAndGlyphs" xml:space="preserve">1A/1B/2A  (n=366)</text>
<text x="275" y="533" font-size="14" text-anchor="start" textLength="95.6" lengthAdjust="spacingAndGlyphs" xml:space="preserve">2B/2C  (n=372)</text>
<text x="330" y="588" font-size="14" text-anchor="start" textLength="75" lengthAdjust="spacingAndGlyphs" xml:space="preserve">3A  (n=286)</text>
<text x="401" y="658" font-size="14" text-anchor="start" textLength="74.8" lengthAdjust="spacingAndGlyphs" xml:space="preserve">3B  (n=302)</text>
</svg>
</body></html>
